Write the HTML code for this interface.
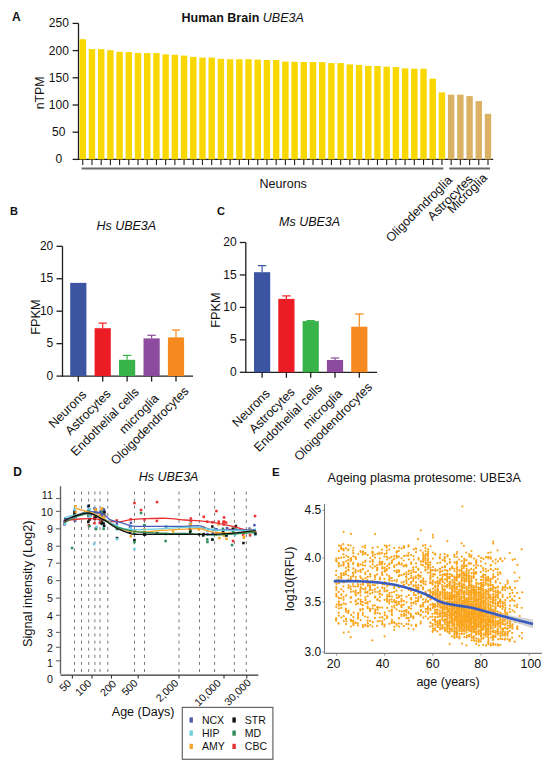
<!DOCTYPE html>
<html><head><meta charset="utf-8"><style>
html,body{margin:0;padding:0;background:#fff;}
svg{display:block;}
text{font-family:"Liberation Sans",sans-serif;}
</style></head><body>
<svg width="550" height="764" viewBox="0 0 550 764">
<rect width="550" height="764" fill="#fff"/>
<text x="12.00" y="20.70" font-size="12" text-anchor="start" font-weight="bold" font-style="normal" fill="#111">A</text>
<text x="181.5" y="21.9" font-size="12.5" fill="#111"><tspan font-weight="bold">Human Brain </tspan><tspan font-style="italic">UBE3A</tspan></text>
<line x1="78.50" y1="23.40" x2="78.50" y2="160.00" stroke="#1e1e1e" stroke-width="1.3"/>
<line x1="72.60" y1="159.40" x2="78.50" y2="159.40" stroke="#1e1e1e" stroke-width="1.3"/>
<text x="58.80" y="163.00" font-size="12" text-anchor="middle" font-weight="normal" font-style="normal" fill="#111">0</text>
<line x1="72.60" y1="132.20" x2="78.50" y2="132.20" stroke="#1e1e1e" stroke-width="1.3"/>
<text x="58.80" y="136.40" font-size="12" text-anchor="middle" font-weight="normal" font-style="normal" fill="#111">50</text>
<line x1="72.60" y1="105.00" x2="78.50" y2="105.00" stroke="#1e1e1e" stroke-width="1.3"/>
<text x="58.80" y="109.20" font-size="12" text-anchor="middle" font-weight="normal" font-style="normal" fill="#111">100</text>
<line x1="72.60" y1="77.80" x2="78.50" y2="77.80" stroke="#1e1e1e" stroke-width="1.3"/>
<text x="58.80" y="82.00" font-size="12" text-anchor="middle" font-weight="normal" font-style="normal" fill="#111">150</text>
<line x1="72.60" y1="50.60" x2="78.50" y2="50.60" stroke="#1e1e1e" stroke-width="1.3"/>
<text x="58.80" y="54.80" font-size="12" text-anchor="middle" font-weight="normal" font-style="normal" fill="#111">200</text>
<line x1="72.60" y1="23.40" x2="78.50" y2="23.40" stroke="#1e1e1e" stroke-width="1.3"/>
<text x="58.80" y="27.00" font-size="12" text-anchor="middle" font-weight="normal" font-style="normal" fill="#111">250</text>
<line x1="78.50" y1="159.40" x2="493.20" y2="159.40" stroke="#1e1e1e" stroke-width="1.3"/>
<rect x="79.55" y="39.20" width="6.40" height="120.20" fill="#F8D800"/>
<line x1="82.75" y1="159.40" x2="82.75" y2="165.00" stroke="#1e1e1e" stroke-width="1.1"/>
<rect x="88.76" y="49.10" width="6.40" height="110.30" fill="#F8D800"/>
<line x1="91.96" y1="159.40" x2="91.96" y2="165.00" stroke="#1e1e1e" stroke-width="1.1"/>
<rect x="97.97" y="49.10" width="6.40" height="110.30" fill="#F8D800"/>
<line x1="101.17" y1="159.40" x2="101.17" y2="165.00" stroke="#1e1e1e" stroke-width="1.1"/>
<rect x="107.18" y="50.20" width="6.40" height="109.20" fill="#F8D800"/>
<line x1="110.38" y1="159.40" x2="110.38" y2="165.00" stroke="#1e1e1e" stroke-width="1.1"/>
<rect x="116.39" y="51.80" width="6.40" height="107.60" fill="#F8D800"/>
<line x1="119.59" y1="159.40" x2="119.59" y2="165.00" stroke="#1e1e1e" stroke-width="1.1"/>
<rect x="125.60" y="52.00" width="6.40" height="107.40" fill="#F8D800"/>
<line x1="128.80" y1="159.40" x2="128.80" y2="165.00" stroke="#1e1e1e" stroke-width="1.1"/>
<rect x="134.81" y="52.90" width="6.40" height="106.50" fill="#F8D800"/>
<line x1="138.01" y1="159.40" x2="138.01" y2="165.00" stroke="#1e1e1e" stroke-width="1.1"/>
<rect x="144.02" y="53.10" width="6.40" height="106.30" fill="#F8D800"/>
<line x1="147.22" y1="159.40" x2="147.22" y2="165.00" stroke="#1e1e1e" stroke-width="1.1"/>
<rect x="153.23" y="53.10" width="6.40" height="106.30" fill="#F8D800"/>
<line x1="156.43" y1="159.40" x2="156.43" y2="165.00" stroke="#1e1e1e" stroke-width="1.1"/>
<rect x="162.44" y="54.40" width="6.40" height="105.00" fill="#F8D800"/>
<line x1="165.64" y1="159.40" x2="165.64" y2="165.00" stroke="#1e1e1e" stroke-width="1.1"/>
<rect x="171.65" y="54.80" width="6.40" height="104.60" fill="#F8D800"/>
<line x1="174.85" y1="159.40" x2="174.85" y2="165.00" stroke="#1e1e1e" stroke-width="1.1"/>
<rect x="180.86" y="55.60" width="6.40" height="103.80" fill="#F8D800"/>
<line x1="184.06" y1="159.40" x2="184.06" y2="165.00" stroke="#1e1e1e" stroke-width="1.1"/>
<rect x="190.07" y="56.90" width="6.40" height="102.50" fill="#F8D800"/>
<line x1="193.27" y1="159.40" x2="193.27" y2="165.00" stroke="#1e1e1e" stroke-width="1.1"/>
<rect x="199.28" y="57.60" width="6.40" height="101.80" fill="#F8D800"/>
<line x1="202.48" y1="159.40" x2="202.48" y2="165.00" stroke="#1e1e1e" stroke-width="1.1"/>
<rect x="208.49" y="57.60" width="6.40" height="101.80" fill="#F8D800"/>
<line x1="211.69" y1="159.40" x2="211.69" y2="165.00" stroke="#1e1e1e" stroke-width="1.1"/>
<rect x="217.70" y="58.90" width="6.40" height="100.50" fill="#F8D800"/>
<line x1="220.90" y1="159.40" x2="220.90" y2="165.00" stroke="#1e1e1e" stroke-width="1.1"/>
<rect x="226.91" y="59.30" width="6.40" height="100.10" fill="#F8D800"/>
<line x1="230.11" y1="159.40" x2="230.11" y2="165.00" stroke="#1e1e1e" stroke-width="1.1"/>
<rect x="236.12" y="59.30" width="6.40" height="100.10" fill="#F8D800"/>
<line x1="239.32" y1="159.40" x2="239.32" y2="165.00" stroke="#1e1e1e" stroke-width="1.1"/>
<rect x="245.33" y="59.30" width="6.40" height="100.10" fill="#F8D800"/>
<line x1="248.53" y1="159.40" x2="248.53" y2="165.00" stroke="#1e1e1e" stroke-width="1.1"/>
<rect x="254.54" y="59.60" width="6.40" height="99.80" fill="#F8D800"/>
<line x1="257.74" y1="159.40" x2="257.74" y2="165.00" stroke="#1e1e1e" stroke-width="1.1"/>
<rect x="263.75" y="60.00" width="6.40" height="99.40" fill="#F8D800"/>
<line x1="266.95" y1="159.40" x2="266.95" y2="165.00" stroke="#1e1e1e" stroke-width="1.1"/>
<rect x="272.96" y="60.00" width="6.40" height="99.40" fill="#F8D800"/>
<line x1="276.16" y1="159.40" x2="276.16" y2="165.00" stroke="#1e1e1e" stroke-width="1.1"/>
<rect x="282.17" y="61.60" width="6.40" height="97.80" fill="#F8D800"/>
<line x1="285.37" y1="159.40" x2="285.37" y2="165.00" stroke="#1e1e1e" stroke-width="1.1"/>
<rect x="291.38" y="61.80" width="6.40" height="97.60" fill="#F8D800"/>
<line x1="294.58" y1="159.40" x2="294.58" y2="165.00" stroke="#1e1e1e" stroke-width="1.1"/>
<rect x="300.59" y="62.00" width="6.40" height="97.40" fill="#F8D800"/>
<line x1="303.79" y1="159.40" x2="303.79" y2="165.00" stroke="#1e1e1e" stroke-width="1.1"/>
<rect x="309.80" y="62.00" width="6.40" height="97.40" fill="#F8D800"/>
<line x1="313.00" y1="159.40" x2="313.00" y2="165.00" stroke="#1e1e1e" stroke-width="1.1"/>
<rect x="319.01" y="62.20" width="6.40" height="97.20" fill="#F8D800"/>
<line x1="322.21" y1="159.40" x2="322.21" y2="165.00" stroke="#1e1e1e" stroke-width="1.1"/>
<rect x="328.22" y="63.10" width="6.40" height="96.30" fill="#F8D800"/>
<line x1="331.42" y1="159.40" x2="331.42" y2="165.00" stroke="#1e1e1e" stroke-width="1.1"/>
<rect x="337.43" y="63.10" width="6.40" height="96.30" fill="#F8D800"/>
<line x1="340.63" y1="159.40" x2="340.63" y2="165.00" stroke="#1e1e1e" stroke-width="1.1"/>
<rect x="346.64" y="64.40" width="6.40" height="95.00" fill="#F8D800"/>
<line x1="349.84" y1="159.40" x2="349.84" y2="165.00" stroke="#1e1e1e" stroke-width="1.1"/>
<rect x="355.85" y="64.90" width="6.40" height="94.50" fill="#F8D800"/>
<line x1="359.05" y1="159.40" x2="359.05" y2="165.00" stroke="#1e1e1e" stroke-width="1.1"/>
<rect x="365.06" y="65.80" width="6.40" height="93.60" fill="#F8D800"/>
<line x1="368.26" y1="159.40" x2="368.26" y2="165.00" stroke="#1e1e1e" stroke-width="1.1"/>
<rect x="374.27" y="66.00" width="6.40" height="93.40" fill="#F8D800"/>
<line x1="377.47" y1="159.40" x2="377.47" y2="165.00" stroke="#1e1e1e" stroke-width="1.1"/>
<rect x="383.48" y="66.70" width="6.40" height="92.70" fill="#F8D800"/>
<line x1="386.68" y1="159.40" x2="386.68" y2="165.00" stroke="#1e1e1e" stroke-width="1.1"/>
<rect x="392.69" y="67.10" width="6.40" height="92.30" fill="#F8D800"/>
<line x1="395.89" y1="159.40" x2="395.89" y2="165.00" stroke="#1e1e1e" stroke-width="1.1"/>
<rect x="401.90" y="68.40" width="6.40" height="91.00" fill="#F8D800"/>
<line x1="405.10" y1="159.40" x2="405.10" y2="165.00" stroke="#1e1e1e" stroke-width="1.1"/>
<rect x="411.11" y="68.70" width="6.40" height="90.70" fill="#F8D800"/>
<line x1="414.31" y1="159.40" x2="414.31" y2="165.00" stroke="#1e1e1e" stroke-width="1.1"/>
<rect x="420.32" y="68.70" width="6.40" height="90.70" fill="#F8D800"/>
<line x1="423.52" y1="159.40" x2="423.52" y2="165.00" stroke="#1e1e1e" stroke-width="1.1"/>
<rect x="429.53" y="78.70" width="6.40" height="80.70" fill="#F8D800"/>
<line x1="432.73" y1="159.40" x2="432.73" y2="165.00" stroke="#1e1e1e" stroke-width="1.1"/>
<rect x="438.74" y="92.40" width="6.40" height="67.00" fill="#F8D800"/>
<line x1="441.94" y1="159.40" x2="441.94" y2="165.00" stroke="#1e1e1e" stroke-width="1.1"/>
<rect x="447.95" y="94.70" width="6.40" height="64.70" fill="#DBB163"/>
<line x1="451.15" y1="159.40" x2="451.15" y2="165.00" stroke="#1e1e1e" stroke-width="1.1"/>
<rect x="457.16" y="94.70" width="6.40" height="64.70" fill="#DBB163"/>
<line x1="460.36" y1="159.40" x2="460.36" y2="165.00" stroke="#1e1e1e" stroke-width="1.1"/>
<rect x="466.37" y="96.10" width="6.40" height="63.30" fill="#DBB163"/>
<line x1="469.57" y1="159.40" x2="469.57" y2="165.00" stroke="#1e1e1e" stroke-width="1.1"/>
<rect x="475.58" y="101.10" width="6.40" height="58.30" fill="#DBB163"/>
<line x1="478.78" y1="159.40" x2="478.78" y2="165.00" stroke="#1e1e1e" stroke-width="1.1"/>
<rect x="484.79" y="113.80" width="6.40" height="45.60" fill="#DBB163"/>
<line x1="487.99" y1="159.40" x2="487.99" y2="165.00" stroke="#1e1e1e" stroke-width="1.1"/>
<line x1="81.60" y1="168.60" x2="443.30" y2="168.60" stroke="#6a6a6a" stroke-width="2"/>
<line x1="449.20" y1="168.60" x2="490.00" y2="168.60" stroke="#6a6a6a" stroke-width="2"/>
<text x="259.60" y="187.50" font-size="12.5" text-anchor="start" font-weight="normal" font-style="normal" fill="#111">Neurons</text>
<text transform="translate(452.80,180.90) rotate(-45)" font-size="12.5" text-anchor="end" fill="#111">Oligodendroglia</text>
<text transform="translate(473.80,180.00) rotate(-45)" font-size="12.5" text-anchor="end" fill="#111">Astrocytes</text>
<text transform="translate(487.80,178.70) rotate(-45)" font-size="12.5" text-anchor="end" fill="#111">Microglia</text>
<text transform="translate(44.1,92.85) rotate(-90)" font-size="12.4" text-anchor="middle" fill="#111">nTPM</text>
<text x="10.00" y="215.00" font-size="11" text-anchor="start" font-weight="bold" font-style="normal" fill="#111">B</text>
<text x="96.4" y="229.9" font-size="12.5" font-style="italic" fill="#111">Hs UBE3A</text>
<line x1="62.50" y1="246.30" x2="62.50" y2="376.70" stroke="#1e1e1e" stroke-width="1.3"/>
<line x1="56.50" y1="376.10" x2="62.50" y2="376.10" stroke="#1e1e1e" stroke-width="1.3"/>
<text x="53.30" y="379.70" font-size="12" text-anchor="end" font-weight="normal" font-style="normal" fill="#111">0</text>
<line x1="56.50" y1="343.65" x2="62.50" y2="343.65" stroke="#1e1e1e" stroke-width="1.3"/>
<text x="53.30" y="347.25" font-size="12" text-anchor="end" font-weight="normal" font-style="normal" fill="#111">5</text>
<line x1="56.50" y1="311.20" x2="62.50" y2="311.20" stroke="#1e1e1e" stroke-width="1.3"/>
<text x="53.30" y="314.80" font-size="12" text-anchor="end" font-weight="normal" font-style="normal" fill="#111">10</text>
<line x1="56.50" y1="278.75" x2="62.50" y2="278.75" stroke="#1e1e1e" stroke-width="1.3"/>
<text x="53.30" y="282.35" font-size="12" text-anchor="end" font-weight="normal" font-style="normal" fill="#111">15</text>
<line x1="56.50" y1="246.30" x2="62.50" y2="246.30" stroke="#1e1e1e" stroke-width="1.3"/>
<text x="53.30" y="249.90" font-size="12" text-anchor="end" font-weight="normal" font-style="normal" fill="#111">20</text>
<line x1="62.50" y1="376.10" x2="193.00" y2="376.10" stroke="#1e1e1e" stroke-width="1.3"/>
<rect x="70.20" y="282.90" width="16.20" height="93.20" fill="#3B55A3"/>
<line x1="78.30" y1="376.10" x2="78.30" y2="381.60" stroke="#1e1e1e" stroke-width="1.3"/>
<rect x="94.60" y="328.20" width="16.20" height="47.90" fill="#EC1C24"/>
<line x1="102.70" y1="328.20" x2="102.70" y2="323.10" stroke="#EC1C24" stroke-width="1.2"/>
<line x1="98.50" y1="323.10" x2="106.90" y2="323.10" stroke="#EC1C24" stroke-width="1.2"/>
<line x1="102.70" y1="376.10" x2="102.70" y2="381.60" stroke="#1e1e1e" stroke-width="1.3"/>
<rect x="119.00" y="359.80" width="16.20" height="16.30" fill="#37B34A"/>
<line x1="127.10" y1="359.80" x2="127.10" y2="355.40" stroke="#37B34A" stroke-width="1.2"/>
<line x1="122.90" y1="355.40" x2="131.30" y2="355.40" stroke="#37B34A" stroke-width="1.2"/>
<line x1="127.10" y1="376.10" x2="127.10" y2="381.60" stroke="#1e1e1e" stroke-width="1.3"/>
<rect x="143.50" y="338.40" width="16.20" height="37.70" fill="#8C4B9E"/>
<line x1="151.60" y1="338.40" x2="151.60" y2="335.30" stroke="#8C4B9E" stroke-width="1.2"/>
<line x1="147.40" y1="335.30" x2="155.80" y2="335.30" stroke="#8C4B9E" stroke-width="1.2"/>
<line x1="151.60" y1="376.10" x2="151.60" y2="381.60" stroke="#1e1e1e" stroke-width="1.3"/>
<rect x="167.90" y="337.40" width="16.20" height="38.70" fill="#F6891F"/>
<line x1="176.00" y1="337.40" x2="176.00" y2="330.00" stroke="#F6891F" stroke-width="1.2"/>
<line x1="171.80" y1="330.00" x2="180.20" y2="330.00" stroke="#F6891F" stroke-width="1.2"/>
<line x1="176.00" y1="376.10" x2="176.00" y2="381.60" stroke="#1e1e1e" stroke-width="1.3"/>
<text transform="translate(87.20,395.40) rotate(-45)" font-size="12.5" text-anchor="end" fill="#111">Neurons</text>
<text transform="translate(111.50,394.60) rotate(-45)" font-size="12.5" text-anchor="end" fill="#111">Astrocytes</text>
<text transform="translate(139.70,392.80) rotate(-45)" font-size="12.5" text-anchor="end" fill="#111">Endothelial cells</text>
<text transform="translate(159.50,399.20) rotate(-45)" font-size="12.5" text-anchor="end" fill="#111">microglia</text>
<text transform="translate(189.50,391.90) rotate(-45)" font-size="12.5" text-anchor="end" fill="#111">Oloigodendrocytes</text>
<text transform="translate(40.1,317) rotate(-90)" font-size="12.8" text-anchor="middle" fill="#111">FPKM</text>
<text x="217.00" y="214.80" font-size="11" text-anchor="start" font-weight="bold" font-style="normal" fill="#111">C</text>
<text x="279" y="226" font-size="12.5" font-style="italic" fill="#111">Ms UBE3A</text>
<line x1="245.80" y1="242.50" x2="245.80" y2="372.90" stroke="#1e1e1e" stroke-width="1.3"/>
<line x1="239.80" y1="372.30" x2="245.80" y2="372.30" stroke="#1e1e1e" stroke-width="1.3"/>
<text x="236.60" y="375.90" font-size="12" text-anchor="end" font-weight="normal" font-style="normal" fill="#111">0</text>
<line x1="239.80" y1="339.85" x2="245.80" y2="339.85" stroke="#1e1e1e" stroke-width="1.3"/>
<text x="236.60" y="343.45" font-size="12" text-anchor="end" font-weight="normal" font-style="normal" fill="#111">5</text>
<line x1="239.80" y1="307.40" x2="245.80" y2="307.40" stroke="#1e1e1e" stroke-width="1.3"/>
<text x="236.60" y="311.00" font-size="12" text-anchor="end" font-weight="normal" font-style="normal" fill="#111">10</text>
<line x1="239.80" y1="274.95" x2="245.80" y2="274.95" stroke="#1e1e1e" stroke-width="1.3"/>
<text x="236.60" y="278.55" font-size="12" text-anchor="end" font-weight="normal" font-style="normal" fill="#111">15</text>
<line x1="239.80" y1="242.50" x2="245.80" y2="242.50" stroke="#1e1e1e" stroke-width="1.3"/>
<text x="236.60" y="246.10" font-size="12" text-anchor="end" font-weight="normal" font-style="normal" fill="#111">20</text>
<line x1="245.80" y1="372.30" x2="377.00" y2="372.30" stroke="#1e1e1e" stroke-width="1.3"/>
<rect x="254.00" y="272.20" width="16.20" height="100.10" fill="#3B55A3"/>
<line x1="262.10" y1="272.20" x2="262.10" y2="265.60" stroke="#3B55A3" stroke-width="1.2"/>
<line x1="257.90" y1="265.60" x2="266.30" y2="265.60" stroke="#3B55A3" stroke-width="1.2"/>
<line x1="262.10" y1="372.30" x2="262.10" y2="377.80" stroke="#1e1e1e" stroke-width="1.3"/>
<rect x="278.30" y="298.90" width="16.20" height="73.40" fill="#EC1C24"/>
<line x1="286.40" y1="298.90" x2="286.40" y2="295.90" stroke="#EC1C24" stroke-width="1.2"/>
<line x1="282.20" y1="295.90" x2="290.60" y2="295.90" stroke="#EC1C24" stroke-width="1.2"/>
<line x1="286.40" y1="372.30" x2="286.40" y2="377.80" stroke="#1e1e1e" stroke-width="1.3"/>
<rect x="302.60" y="321.10" width="16.20" height="51.20" fill="#37B34A"/>
<line x1="310.70" y1="321.10" x2="310.70" y2="320.60" stroke="#37B34A" stroke-width="1.2"/>
<line x1="306.50" y1="320.60" x2="314.90" y2="320.60" stroke="#37B34A" stroke-width="1.2"/>
<line x1="310.70" y1="372.30" x2="310.70" y2="377.80" stroke="#1e1e1e" stroke-width="1.3"/>
<rect x="326.90" y="360.00" width="16.20" height="12.30" fill="#8C4B9E"/>
<line x1="335.00" y1="360.00" x2="335.00" y2="358.00" stroke="#8C4B9E" stroke-width="1.2"/>
<line x1="330.80" y1="358.00" x2="339.20" y2="358.00" stroke="#8C4B9E" stroke-width="1.2"/>
<line x1="335.00" y1="372.30" x2="335.00" y2="377.80" stroke="#1e1e1e" stroke-width="1.3"/>
<rect x="351.20" y="326.70" width="16.20" height="45.60" fill="#F6891F"/>
<line x1="359.30" y1="326.70" x2="359.30" y2="314.00" stroke="#F6891F" stroke-width="1.2"/>
<line x1="355.10" y1="314.00" x2="363.50" y2="314.00" stroke="#F6891F" stroke-width="1.2"/>
<line x1="359.30" y1="372.30" x2="359.30" y2="377.80" stroke="#1e1e1e" stroke-width="1.3"/>
<text transform="translate(270.70,394.30) rotate(-45)" font-size="12.5" text-anchor="end" fill="#111">Neurons</text>
<text transform="translate(295.50,392.80) rotate(-45)" font-size="12.5" text-anchor="end" fill="#111">Astrocytes</text>
<text transform="translate(323.00,388.60) rotate(-45)" font-size="12.5" text-anchor="end" fill="#111">Endothelial cells</text>
<text transform="translate(343.00,394.40) rotate(-45)" font-size="12.5" text-anchor="end" fill="#111">microglia</text>
<text transform="translate(372.90,387.80) rotate(-45)" font-size="12.5" text-anchor="end" fill="#111">Oloigodendrocytes</text>
<text transform="translate(219.8,310) rotate(-90)" font-size="12.8" text-anchor="middle" fill="#111">FPKM</text>
<text x="13.30" y="476.00" font-size="12" text-anchor="start" font-weight="bold" font-style="normal" fill="#111">D</text>
<text x="138.7" y="480.7" font-size="12.5" font-style="italic" fill="#111">Hs UBE3A</text>
<line x1="60.50" y1="486.20" x2="60.50" y2="673.80" stroke="#666" stroke-width="1.4"/>
<line x1="56.00" y1="498.50" x2="60.50" y2="498.50" stroke="#666" stroke-width="1.1"/>
<line x1="56.00" y1="511.40" x2="60.50" y2="511.40" stroke="#666" stroke-width="1.1"/>
<line x1="56.00" y1="528.80" x2="60.50" y2="528.80" stroke="#666" stroke-width="1.1"/>
<line x1="56.00" y1="546.20" x2="60.50" y2="546.20" stroke="#666" stroke-width="1.1"/>
<line x1="56.00" y1="563.20" x2="60.50" y2="563.20" stroke="#666" stroke-width="1.1"/>
<line x1="56.00" y1="580.60" x2="60.50" y2="580.60" stroke="#666" stroke-width="1.1"/>
<line x1="56.00" y1="598.10" x2="60.50" y2="598.10" stroke="#666" stroke-width="1.1"/>
<line x1="56.00" y1="615.30" x2="60.50" y2="615.30" stroke="#666" stroke-width="1.1"/>
<line x1="56.00" y1="632.40" x2="60.50" y2="632.40" stroke="#666" stroke-width="1.1"/>
<line x1="56.00" y1="647.30" x2="60.50" y2="647.30" stroke="#666" stroke-width="1.1"/>
<line x1="56.00" y1="660.80" x2="60.50" y2="660.80" stroke="#666" stroke-width="1.1"/>
<text x="52.80" y="498.70" font-size="10.6" text-anchor="end" font-weight="normal" font-style="normal" fill="#111">11</text>
<text x="52.80" y="516.30" font-size="10.6" text-anchor="end" font-weight="normal" font-style="normal" fill="#111">10</text>
<text x="52.80" y="533.20" font-size="10.6" text-anchor="end" font-weight="normal" font-style="normal" fill="#111">9</text>
<text x="52.80" y="551.40" font-size="10.6" text-anchor="end" font-weight="normal" font-style="normal" fill="#111">8</text>
<text x="52.80" y="566.80" font-size="10.6" text-anchor="end" font-weight="normal" font-style="normal" fill="#111">7</text>
<text x="52.80" y="583.80" font-size="10.6" text-anchor="end" font-weight="normal" font-style="normal" fill="#111">6</text>
<text x="52.80" y="601.50" font-size="10.6" text-anchor="end" font-weight="normal" font-style="normal" fill="#111">5</text>
<text x="52.80" y="620.30" font-size="10.6" text-anchor="end" font-weight="normal" font-style="normal" fill="#111">4</text>
<text x="52.80" y="637.00" font-size="10.6" text-anchor="end" font-weight="normal" font-style="normal" fill="#111">3</text>
<text x="52.80" y="651.50" font-size="10.6" text-anchor="end" font-weight="normal" font-style="normal" fill="#111">2</text>
<text x="52.80" y="666.70" font-size="10.6" text-anchor="end" font-weight="normal" font-style="normal" fill="#111">1</text>
<text x="52.80" y="682.80" font-size="10.6" text-anchor="end" font-weight="normal" font-style="normal" fill="#111">0</text>
<line x1="60.50" y1="675.20" x2="258.40" y2="675.20" stroke="#333" stroke-width="1.2"/>
<line x1="74.50" y1="491.50" x2="74.50" y2="675.00" stroke="#7a7a7a" stroke-width="1.0" stroke-dasharray="3 4.1"/>
<line x1="81.50" y1="491.50" x2="81.50" y2="675.00" stroke="#7a7a7a" stroke-width="1.0" stroke-dasharray="3 4.1"/>
<line x1="88.70" y1="491.50" x2="88.70" y2="675.00" stroke="#7a7a7a" stroke-width="1.0" stroke-dasharray="3 4.1"/>
<line x1="94.90" y1="491.50" x2="94.90" y2="675.00" stroke="#7a7a7a" stroke-width="1.0" stroke-dasharray="3 4.1"/>
<line x1="100.00" y1="491.50" x2="100.00" y2="675.00" stroke="#7a7a7a" stroke-width="1.0" stroke-dasharray="3 4.1"/>
<line x1="107.80" y1="491.50" x2="107.80" y2="675.00" stroke="#7a7a7a" stroke-width="1.0" stroke-dasharray="3 4.1"/>
<line x1="134.50" y1="491.50" x2="134.50" y2="675.00" stroke="#7a7a7a" stroke-width="1.0" stroke-dasharray="3 4.1"/>
<line x1="144.50" y1="491.50" x2="144.50" y2="675.00" stroke="#7a7a7a" stroke-width="1.0" stroke-dasharray="3 4.1"/>
<line x1="179.00" y1="491.50" x2="179.00" y2="675.00" stroke="#7a7a7a" stroke-width="1.0" stroke-dasharray="3 4.1"/>
<line x1="199.50" y1="491.50" x2="199.50" y2="675.00" stroke="#7a7a7a" stroke-width="1.0" stroke-dasharray="3 4.1"/>
<line x1="214.60" y1="491.50" x2="214.60" y2="675.00" stroke="#7a7a7a" stroke-width="1.0" stroke-dasharray="3 4.1"/>
<line x1="234.40" y1="491.50" x2="234.40" y2="675.00" stroke="#7a7a7a" stroke-width="1.0" stroke-dasharray="3 4.1"/>
<line x1="246.30" y1="491.50" x2="246.30" y2="675.00" stroke="#7a7a7a" stroke-width="1.0" stroke-dasharray="3 4.1"/>
<line x1="72.40" y1="675.20" x2="72.40" y2="678.60" stroke="#333" stroke-width="1.1"/>
<line x1="92.00" y1="675.20" x2="92.00" y2="678.60" stroke="#333" stroke-width="1.1"/>
<line x1="111.50" y1="675.20" x2="111.50" y2="678.60" stroke="#333" stroke-width="1.1"/>
<line x1="138.20" y1="675.20" x2="138.20" y2="678.60" stroke="#333" stroke-width="1.1"/>
<line x1="179.00" y1="675.20" x2="179.00" y2="678.60" stroke="#333" stroke-width="1.1"/>
<line x1="224.00" y1="675.20" x2="224.00" y2="678.60" stroke="#333" stroke-width="1.1"/>
<line x1="246.80" y1="675.20" x2="246.80" y2="678.60" stroke="#333" stroke-width="1.1"/>
<text transform="translate(72.00,684.00) rotate(-45)" font-size="10.6" text-anchor="end" fill="#111">50</text>
<text transform="translate(92.10,684.00) rotate(-45)" font-size="10.6" text-anchor="end" fill="#111">100</text>
<text transform="translate(117.00,684.50) rotate(-45)" font-size="10.6" text-anchor="end" fill="#111">200</text>
<text transform="translate(138.40,683.80) rotate(-45)" font-size="10.6" text-anchor="end" fill="#111">500</text>
<text transform="translate(179.10,683.80) rotate(-45)" font-size="10.6" text-anchor="end" fill="#111">2,000</text>
<text transform="translate(221.70,683.80) rotate(-45)" font-size="10.6" text-anchor="end" fill="#111">10,000</text>
<text transform="translate(251.60,683.30) rotate(-45)" font-size="10.6" text-anchor="end" fill="#111">30,000</text>
<text x="111.80" y="716.40" font-size="12.5" text-anchor="start" font-weight="normal" font-style="normal" fill="#111">Age (Days)</text>
<text transform="translate(31.8,583.7) rotate(-90)" font-size="12.8" text-anchor="middle" fill="#111">Signal intensity (Log2)</text>
<rect x="182.3" y="707.4" width="90.6" height="51.9" fill="none" stroke="#666" stroke-width="1.2"/>
<rect x="189.50" y="717.40" width="3.40" height="5.20" fill="#4A5DB5"/>
<text x="201.90" y="724.00" font-size="10.5" text-anchor="start" font-weight="normal" font-style="normal" fill="#111">NCX</text>
<rect x="189.50" y="730.50" width="3.40" height="5.20" fill="#6FCFE0"/>
<text x="201.90" y="737.10" font-size="10.5" text-anchor="start" font-weight="normal" font-style="normal" fill="#111">HIP</text>
<rect x="189.50" y="743.80" width="3.40" height="5.20" fill="#F5A52A"/>
<text x="201.90" y="750.40" font-size="10.5" text-anchor="start" font-weight="normal" font-style="normal" fill="#111">AMY</text>
<rect x="232.40" y="717.40" width="3.40" height="5.20" fill="#111"/>
<text x="244.80" y="724.00" font-size="10.5" text-anchor="start" font-weight="normal" font-style="normal" fill="#111">STR</text>
<rect x="232.40" y="730.50" width="3.40" height="5.20" fill="#2E8B57"/>
<text x="244.80" y="737.10" font-size="10.5" text-anchor="start" font-weight="normal" font-style="normal" fill="#111">MD</text>
<rect x="232.40" y="743.80" width="3.40" height="5.20" fill="#E8302F"/>
<text x="244.80" y="750.40" font-size="10.5" text-anchor="start" font-weight="normal" font-style="normal" fill="#111">CBC</text>
<rect x="64.1" y="519.5" width="2.5" height="2.5" fill="#E8302F"/><rect x="63.3" y="521.4" width="2.5" height="2.5" fill="#E8302F"/><rect x="63.2" y="523.2" width="2.5" height="2.5" fill="#4A5DB5"/><rect x="63.3" y="519.7" width="2.5" height="2.5" fill="#4A5DB5"/><rect x="63.8" y="522.6" width="2.5" height="2.5" fill="#6FCFE0"/><rect x="64.3" y="517.4" width="2.5" height="2.5" fill="#111111"/><rect x="73.3" y="509.9" width="2.5" height="2.5" fill="#4A5DB5"/><rect x="73.3" y="517.5" width="2.5" height="2.5" fill="#4A5DB5"/><rect x="73.1" y="508.3" width="2.5" height="2.5" fill="#6FCFE0"/><rect x="73.3" y="513.3" width="2.5" height="2.5" fill="#2E8B57"/><rect x="73.0" y="513.2" width="2.5" height="2.5" fill="#111111"/><rect x="73.4" y="510.9" width="2.5" height="2.5" fill="#111111"/><rect x="73.6" y="511.5" width="2.5" height="2.5" fill="#111111"/><rect x="73.7" y="519.3" width="2.5" height="2.5" fill="#E8302F"/><rect x="74.1" y="516.6" width="2.5" height="2.5" fill="#E8302F"/><rect x="73.8" y="519.4" width="2.5" height="2.5" fill="#4A5DB5"/><rect x="73.7" y="516.7" width="2.5" height="2.5" fill="#6FCFE0"/><rect x="74.5" y="517.9" width="2.5" height="2.5" fill="#6FCFE0"/><rect x="74.2" y="505.0" width="2.5" height="2.5" fill="#F5A52A"/><rect x="74.6" y="510.8" width="2.5" height="2.5" fill="#F5A52A"/><rect x="87.6" y="524.0" width="2.5" height="2.5" fill="#E8302F"/><rect x="87.2" y="512.9" width="2.5" height="2.5" fill="#4A5DB5"/><rect x="86.9" y="505.3" width="2.5" height="2.5" fill="#4A5DB5"/><rect x="87.4" y="514.7" width="2.5" height="2.5" fill="#4A5DB5"/><rect x="87.2" y="508.3" width="2.5" height="2.5" fill="#6FCFE0"/><rect x="87.3" y="511.0" width="2.5" height="2.5" fill="#F5A52A"/><rect x="87.4" y="512.1" width="2.5" height="2.5" fill="#F5A52A"/><rect x="87.5" y="509.5" width="2.5" height="2.5" fill="#F5A52A"/><rect x="87.3" y="514.8" width="2.5" height="2.5" fill="#2E8B57"/><rect x="87.3" y="509.7" width="2.5" height="2.5" fill="#2E8B57"/><rect x="87.0" y="520.9" width="2.5" height="2.5" fill="#2E8B57"/><rect x="87.6" y="504.4" width="2.5" height="2.5" fill="#111111"/><rect x="87.1" y="520.4" width="2.5" height="2.5" fill="#111111"/><rect x="88.7" y="518.1" width="2.5" height="2.5" fill="#E8302F"/><rect x="89.3" y="513.5" width="2.5" height="2.5" fill="#E8302F"/><rect x="88.7" y="514.8" width="2.5" height="2.5" fill="#4A5DB5"/><rect x="88.7" y="508.1" width="2.5" height="2.5" fill="#6FCFE0"/><rect x="88.6" y="514.4" width="2.5" height="2.5" fill="#6FCFE0"/><rect x="88.7" y="516.5" width="2.5" height="2.5" fill="#6FCFE0"/><rect x="88.2" y="524.9" width="2.5" height="2.5" fill="#2E8B57"/><rect x="88.2" y="518.2" width="2.5" height="2.5" fill="#111111"/><rect x="93.2" y="515.9" width="2.5" height="2.5" fill="#E8302F"/><rect x="93.5" y="517.8" width="2.5" height="2.5" fill="#E8302F"/><rect x="93.2" y="522.0" width="2.5" height="2.5" fill="#E8302F"/><rect x="93.2" y="507.3" width="2.5" height="2.5" fill="#4A5DB5"/><rect x="93.9" y="511.6" width="2.5" height="2.5" fill="#4A5DB5"/><rect x="93.9" y="510.8" width="2.5" height="2.5" fill="#4A5DB5"/><rect x="94.2" y="507.8" width="2.5" height="2.5" fill="#6FCFE0"/><rect x="93.7" y="510.5" width="2.5" height="2.5" fill="#6FCFE0"/><rect x="93.9" y="513.8" width="2.5" height="2.5" fill="#2E8B57"/><rect x="93.3" y="517.3" width="2.5" height="2.5" fill="#111111"/><rect x="93.7" y="511.4" width="2.5" height="2.5" fill="#111111"/><rect x="95.1" y="511.9" width="2.5" height="2.5" fill="#E8302F"/><rect x="94.4" y="512.8" width="2.5" height="2.5" fill="#E8302F"/><rect x="94.8" y="511.0" width="2.5" height="2.5" fill="#4A5DB5"/><rect x="94.6" y="508.0" width="2.5" height="2.5" fill="#4A5DB5"/><rect x="94.5" y="512.3" width="2.5" height="2.5" fill="#4A5DB5"/><rect x="94.7" y="513.4" width="2.5" height="2.5" fill="#6FCFE0"/><rect x="95.3" y="525.6" width="2.5" height="2.5" fill="#6FCFE0"/><rect x="94.3" y="508.1" width="2.5" height="2.5" fill="#F5A52A"/><rect x="94.7" y="509.2" width="2.5" height="2.5" fill="#F5A52A"/><rect x="94.7" y="515.5" width="2.5" height="2.5" fill="#2E8B57"/><rect x="94.6" y="515.5" width="2.5" height="2.5" fill="#111111"/><rect x="98.7" y="516.3" width="2.5" height="2.5" fill="#E8302F"/><rect x="98.5" y="521.7" width="2.5" height="2.5" fill="#E8302F"/><rect x="98.7" y="518.9" width="2.5" height="2.5" fill="#4A5DB5"/><rect x="98.3" y="511.7" width="2.5" height="2.5" fill="#4A5DB5"/><rect x="99.3" y="509.9" width="2.5" height="2.5" fill="#4A5DB5"/><rect x="99.1" y="516.1" width="2.5" height="2.5" fill="#F5A52A"/><rect x="99.3" y="512.9" width="2.5" height="2.5" fill="#F5A52A"/><rect x="98.8" y="513.0" width="2.5" height="2.5" fill="#F5A52A"/><rect x="100.8" y="515.2" width="2.5" height="2.5" fill="#E8302F"/><rect x="101.2" y="515.5" width="2.5" height="2.5" fill="#4A5DB5"/><rect x="100.2" y="512.3" width="2.5" height="2.5" fill="#4A5DB5"/><rect x="101.1" y="513.8" width="2.5" height="2.5" fill="#4A5DB5"/><rect x="101.2" y="521.4" width="2.5" height="2.5" fill="#6FCFE0"/><rect x="101.2" y="523.1" width="2.5" height="2.5" fill="#6FCFE0"/><rect x="100.9" y="519.0" width="2.5" height="2.5" fill="#6FCFE0"/><rect x="100.3" y="520.6" width="2.5" height="2.5" fill="#F5A52A"/><rect x="100.3" y="508.1" width="2.5" height="2.5" fill="#F5A52A"/><rect x="101.1" y="507.1" width="2.5" height="2.5" fill="#F5A52A"/><rect x="100.4" y="517.2" width="2.5" height="2.5" fill="#2E8B57"/><rect x="100.8" y="510.7" width="2.5" height="2.5" fill="#2E8B57"/><rect x="101.1" y="518.9" width="2.5" height="2.5" fill="#111111"/><rect x="100.4" y="522.3" width="2.5" height="2.5" fill="#111111"/><rect x="100.5" y="521.3" width="2.5" height="2.5" fill="#111111"/><rect x="103.2" y="512.1" width="2.5" height="2.5" fill="#E8302F"/><rect x="102.7" y="516.2" width="2.5" height="2.5" fill="#E8302F"/><rect x="102.8" y="515.0" width="2.5" height="2.5" fill="#E8302F"/><rect x="102.8" y="509.9" width="2.5" height="2.5" fill="#4A5DB5"/><rect x="102.4" y="515.2" width="2.5" height="2.5" fill="#4A5DB5"/><rect x="102.8" y="508.3" width="2.5" height="2.5" fill="#4A5DB5"/><rect x="102.4" y="525.7" width="2.5" height="2.5" fill="#6FCFE0"/><rect x="102.7" y="512.9" width="2.5" height="2.5" fill="#6FCFE0"/><rect x="102.4" y="515.9" width="2.5" height="2.5" fill="#F5A52A"/><rect x="102.2" y="518.1" width="2.5" height="2.5" fill="#F5A52A"/><rect x="103.2" y="513.7" width="2.5" height="2.5" fill="#F5A52A"/><rect x="102.3" y="512.0" width="2.5" height="2.5" fill="#2E8B57"/><rect x="102.4" y="527.6" width="2.5" height="2.5" fill="#2E8B57"/><rect x="103.2" y="510.8" width="2.5" height="2.5" fill="#111111"/><rect x="102.4" y="522.2" width="2.5" height="2.5" fill="#111111"/><rect x="103.0" y="524.5" width="2.5" height="2.5" fill="#111111"/><rect x="115.5" y="519.2" width="2.5" height="2.5" fill="#E8302F"/><rect x="115.6" y="522.3" width="2.5" height="2.5" fill="#4A5DB5"/><rect x="115.9" y="528.2" width="2.5" height="2.5" fill="#6FCFE0"/><rect x="115.8" y="525.2" width="2.5" height="2.5" fill="#6FCFE0"/><rect x="115.5" y="527.4" width="2.5" height="2.5" fill="#2E8B57"/><rect x="129.5" y="518.1" width="2.5" height="2.5" fill="#E8302F"/><rect x="128.7" y="525.5" width="2.5" height="2.5" fill="#4A5DB5"/><rect x="129.7" y="521.6" width="2.5" height="2.5" fill="#4A5DB5"/><rect x="129.5" y="526.8" width="2.5" height="2.5" fill="#6FCFE0"/><rect x="128.8" y="531.0" width="2.5" height="2.5" fill="#6FCFE0"/><rect x="129.5" y="535.1" width="2.5" height="2.5" fill="#F5A52A"/><rect x="128.9" y="530.2" width="2.5" height="2.5" fill="#111111"/><rect x="132.8" y="530.9" width="2.5" height="2.5" fill="#6FCFE0"/><rect x="133.8" y="529.0" width="2.5" height="2.5" fill="#F5A52A"/><rect x="133.0" y="532.3" width="2.5" height="2.5" fill="#2E8B57"/><rect x="143.2" y="518.3" width="2.5" height="2.5" fill="#E8302F"/><rect x="143.0" y="524.6" width="2.5" height="2.5" fill="#4A5DB5"/><rect x="143.8" y="531.4" width="2.5" height="2.5" fill="#F5A52A"/><rect x="143.2" y="528.0" width="2.5" height="2.5" fill="#F5A52A"/><rect x="143.2" y="530.9" width="2.5" height="2.5" fill="#2E8B57"/><rect x="143.1" y="524.0" width="2.5" height="2.5" fill="#2E8B57"/><rect x="142.9" y="533.3" width="2.5" height="2.5" fill="#111111"/><rect x="143.7" y="533.4" width="2.5" height="2.5" fill="#111111"/><rect x="155.6" y="519.7" width="2.5" height="2.5" fill="#E8302F"/><rect x="155.9" y="531.9" width="2.5" height="2.5" fill="#111111"/><rect x="164.9" y="525.6" width="2.5" height="2.5" fill="#4A5DB5"/><rect x="164.7" y="525.0" width="2.5" height="2.5" fill="#6FCFE0"/><rect x="164.5" y="532.7" width="2.5" height="2.5" fill="#2E8B57"/><rect x="164.4" y="539.8" width="2.5" height="2.5" fill="#2E8B57"/><rect x="171.8" y="530.2" width="2.5" height="2.5" fill="#F5A52A"/><rect x="189.7" y="520.4" width="2.5" height="2.5" fill="#E8302F"/><rect x="189.6" y="517.3" width="2.5" height="2.5" fill="#E8302F"/><rect x="189.0" y="524.0" width="2.5" height="2.5" fill="#4A5DB5"/><rect x="188.7" y="521.8" width="2.5" height="2.5" fill="#6FCFE0"/><rect x="189.6" y="523.5" width="2.5" height="2.5" fill="#F5A52A"/><rect x="188.8" y="523.3" width="2.5" height="2.5" fill="#F5A52A"/><rect x="188.7" y="526.2" width="2.5" height="2.5" fill="#2E8B57"/><rect x="189.5" y="529.6" width="2.5" height="2.5" fill="#2E8B57"/><rect x="188.9" y="530.7" width="2.5" height="2.5" fill="#111111"/><rect x="188.7" y="527.7" width="2.5" height="2.5" fill="#111111"/><rect x="197.8" y="528.2" width="2.5" height="2.5" fill="#F5A52A"/><rect x="197.4" y="527.7" width="2.5" height="2.5" fill="#F5A52A"/><rect x="197.8" y="533.0" width="2.5" height="2.5" fill="#111111"/><rect x="202.5" y="515.6" width="2.5" height="2.5" fill="#E8302F"/><rect x="202.6" y="527.5" width="2.5" height="2.5" fill="#4A5DB5"/><rect x="202.2" y="526.1" width="2.5" height="2.5" fill="#F5A52A"/><rect x="202.4" y="532.8" width="2.5" height="2.5" fill="#111111"/><rect x="201.9" y="534.2" width="2.5" height="2.5" fill="#111111"/><rect x="206.0" y="520.4" width="2.5" height="2.5" fill="#E8302F"/><rect x="206.2" y="533.2" width="2.5" height="2.5" fill="#4A5DB5"/><rect x="206.2" y="529.8" width="2.5" height="2.5" fill="#6FCFE0"/><rect x="206.5" y="529.2" width="2.5" height="2.5" fill="#6FCFE0"/><rect x="206.0" y="538.2" width="2.5" height="2.5" fill="#2E8B57"/><rect x="211.2" y="521.0" width="2.5" height="2.5" fill="#E8302F"/><rect x="211.7" y="532.0" width="2.5" height="2.5" fill="#4A5DB5"/><rect x="211.3" y="528.3" width="2.5" height="2.5" fill="#6FCFE0"/><rect x="211.3" y="538.4" width="2.5" height="2.5" fill="#2E8B57"/><rect x="211.1" y="538.3" width="2.5" height="2.5" fill="#111111"/><rect x="211.1" y="525.3" width="2.5" height="2.5" fill="#111111"/><rect x="215.2" y="528.8" width="2.5" height="2.5" fill="#4A5DB5"/><rect x="215.1" y="528.0" width="2.5" height="2.5" fill="#4A5DB5"/><rect x="215.0" y="533.0" width="2.5" height="2.5" fill="#F5A52A"/><rect x="217.5" y="520.4" width="2.5" height="2.5" fill="#E8302F"/><rect x="217.2" y="523.2" width="2.5" height="2.5" fill="#F5A52A"/><rect x="218.2" y="536.8" width="2.5" height="2.5" fill="#F5A52A"/><rect x="222.8" y="520.3" width="2.5" height="2.5" fill="#E8302F"/><rect x="222.3" y="523.2" width="2.5" height="2.5" fill="#E8302F"/><rect x="222.6" y="534.3" width="2.5" height="2.5" fill="#F5A52A"/><rect x="221.7" y="527.5" width="2.5" height="2.5" fill="#2E8B57"/><rect x="222.5" y="531.4" width="2.5" height="2.5" fill="#2E8B57"/><rect x="221.7" y="530.5" width="2.5" height="2.5" fill="#111111"/><rect x="224.9" y="521.3" width="2.5" height="2.5" fill="#E8302F"/><rect x="225.8" y="526.8" width="2.5" height="2.5" fill="#4A5DB5"/><rect x="225.2" y="537.5" width="2.5" height="2.5" fill="#F5A52A"/><rect x="224.9" y="534.2" width="2.5" height="2.5" fill="#2E8B57"/><rect x="225.3" y="534.2" width="2.5" height="2.5" fill="#111111"/><rect x="228.3" y="528.6" width="2.5" height="2.5" fill="#E8302F"/><rect x="232.0" y="528.6" width="2.5" height="2.5" fill="#4A5DB5"/><rect x="231.5" y="529.2" width="2.5" height="2.5" fill="#6FCFE0"/><rect x="231.5" y="529.2" width="2.5" height="2.5" fill="#F5A52A"/><rect x="232.1" y="530.9" width="2.5" height="2.5" fill="#2E8B57"/><rect x="231.5" y="527.5" width="2.5" height="2.5" fill="#111111"/><rect x="233.7" y="533.7" width="2.5" height="2.5" fill="#6FCFE0"/><rect x="234.8" y="526.3" width="2.5" height="2.5" fill="#2E8B57"/><rect x="234.6" y="524.8" width="2.5" height="2.5" fill="#111111"/><rect x="241.9" y="533.4" width="2.5" height="2.5" fill="#E8302F"/><rect x="242.5" y="536.6" width="2.5" height="2.5" fill="#F5A52A"/><rect x="242.7" y="535.5" width="2.5" height="2.5" fill="#F5A52A"/><rect x="242.6" y="531.0" width="2.5" height="2.5" fill="#2E8B57"/><rect x="249.0" y="528.6" width="2.5" height="2.5" fill="#E8302F"/><rect x="248.8" y="534.1" width="2.5" height="2.5" fill="#E8302F"/><rect x="248.3" y="527.4" width="2.5" height="2.5" fill="#4A5DB5"/><rect x="248.9" y="528.5" width="2.5" height="2.5" fill="#F5A52A"/><rect x="253.9" y="531.1" width="2.5" height="2.5" fill="#E8302F"/><rect x="253.2" y="523.9" width="2.5" height="2.5" fill="#4A5DB5"/><rect x="253.5" y="528.5" width="2.5" height="2.5" fill="#6FCFE0"/><rect x="254.0" y="533.7" width="2.5" height="2.5" fill="#6FCFE0"/><rect x="253.4" y="530.8" width="2.5" height="2.5" fill="#F5A52A"/><rect x="253.6" y="531.4" width="2.5" height="2.5" fill="#2E8B57"/><rect x="253.6" y="530.4" width="2.5" height="2.5" fill="#111111"/><rect x="254.2" y="532.6" width="2.5" height="2.5" fill="#111111"/><rect x="133.2" y="501.8" width="2.5" height="2.5" fill="#E8302F"/><rect x="155.8" y="500.8" width="2.5" height="2.5" fill="#E8302F"/><rect x="139.8" y="508.8" width="2.5" height="2.5" fill="#E8302F"/><rect x="139.8" y="511.8" width="2.5" height="2.5" fill="#2E8B57"/><rect x="215.2" y="509.8" width="2.5" height="2.5" fill="#E8302F"/><rect x="222.8" y="516.2" width="2.5" height="2.5" fill="#E8302F"/><rect x="222.2" y="520.8" width="2.5" height="2.5" fill="#E8302F"/><rect x="253.8" y="514.8" width="2.5" height="2.5" fill="#E8302F"/><rect x="115.8" y="536.8" width="2.5" height="2.5" fill="#111111"/><rect x="115.8" y="537.8" width="2.5" height="2.5" fill="#6FCFE0"/><rect x="133.2" y="538.8" width="2.5" height="2.5" fill="#111111"/><rect x="133.2" y="540.8" width="2.5" height="2.5" fill="#2E8B57"/><rect x="70.8" y="546.8" width="2.5" height="2.5" fill="#2E8B57"/><rect x="133.2" y="547.8" width="2.5" height="2.5" fill="#6FCFE0"/><rect x="242.2" y="541.8" width="2.5" height="2.5" fill="#111111"/><rect x="231.8" y="539.8" width="2.5" height="2.5" fill="#E8302F"/><rect x="230.8" y="543.8" width="2.5" height="2.5" fill="#2E8B57"/><rect x="206.2" y="540.8" width="2.5" height="2.5" fill="#2E8B57"/><rect x="92.8" y="542.8" width="2.5" height="2.5" fill="#6FCFE0"/><rect x="94.8" y="527.8" width="2.5" height="2.5" fill="#2E8B57"/>
<path d="M64.5,522.0 C65.4,521.7 67.4,520.5 70.0,520.0 C72.6,519.5 76.7,519.2 80.0,519.0 C83.3,518.8 86.7,518.6 90.0,518.7 C93.3,518.8 97.2,519.1 100.0,519.5 C102.8,519.9 103.9,520.6 107.0,521.0 C110.1,521.4 114.8,522.1 118.7,521.9 C122.6,521.7 126.0,520.2 130.4,519.7 C134.8,519.2 138.9,518.9 144.9,518.7 C150.9,518.5 160.0,518.1 166.7,518.3 C173.4,518.5 179.5,519.6 185.0,520.0 C190.5,520.4 194.7,520.5 199.5,520.9 C204.3,521.3 208.4,521.7 214.0,522.6 C219.6,523.5 227.7,525.1 233.0,526.3 C238.3,527.5 242.2,529.2 246.0,529.9 C249.8,530.6 253.9,530.5 255.5,530.6" fill="none" stroke="#E8302F" stroke-width="1.3"/>
<path d="M64.5,520.0 C65.8,519.5 69.4,518.0 72.0,517.0 C74.6,516.0 77.3,514.9 80.0,514.0 C82.7,513.1 84.7,511.7 88.0,511.5 C91.3,511.3 97.2,512.4 100.0,513.0 C102.8,513.6 103.3,513.9 105.0,515.0 C106.7,516.1 107.7,518.6 110.0,519.7 C112.3,520.9 115.3,520.9 118.7,521.9 C122.1,522.9 127.5,524.8 130.4,525.5 C133.3,526.2 129.9,526.2 136.2,526.3 C142.5,526.4 160.1,526.3 168.2,526.3 C176.3,526.3 179.8,526.4 185.0,526.3 C190.2,526.2 196.3,525.6 199.5,525.8 C202.7,526.0 201.6,526.6 204.0,527.3 C206.4,528.0 209.2,529.5 214.0,529.9 C218.8,530.3 226.1,529.9 233.0,529.9 C239.9,529.9 251.8,529.9 255.5,529.9" fill="none" stroke="#4A5DB5" stroke-width="1.3"/>
<path d="M64.5,518.0 C65.4,517.7 67.4,516.7 70.0,516.0 C72.6,515.3 77.0,514.6 80.0,514.0 C83.0,513.4 85.3,512.4 88.0,512.5 C90.7,512.6 93.5,513.6 96.0,514.5 C98.5,515.4 100.7,516.8 103.0,518.0 C105.3,519.2 107.4,520.5 110.0,522.0 C112.6,523.5 115.3,525.8 118.7,527.0 C122.1,528.2 124.6,529.1 130.4,529.5 C136.2,529.9 144.5,529.6 153.6,529.2 C162.7,528.8 177.3,527.6 185.0,527.3 C192.7,527.0 194.7,527.0 199.5,527.5 C204.3,528.0 208.4,529.5 214.0,530.0 C219.6,530.5 226.1,530.4 233.0,530.5 C239.9,530.6 251.8,530.5 255.5,530.5" fill="none" stroke="#6FCFE0" stroke-width="1.3"/>
<path d="M76.0,508.5 C77.5,508.9 81.8,510.1 85.0,511.0 C88.2,511.9 92.0,512.8 95.0,514.0 C98.0,515.2 100.5,516.4 103.0,518.0 C105.5,519.6 107.4,521.6 110.0,523.4 C112.6,525.1 115.3,527.2 118.7,528.5 C122.1,529.8 126.0,530.8 130.4,531.4 C134.8,532.0 140.3,532.2 144.9,532.1 C149.5,532.0 152.9,531.0 158.0,530.6 C163.1,530.2 171.0,529.8 175.5,529.6 C180.0,529.4 181.0,529.4 185.0,529.2 C189.0,529.1 194.7,528.2 199.5,528.7 C204.3,529.2 208.4,531.4 214.0,532.1 C219.6,532.8 226.1,533.2 233.0,533.1 C239.9,533.0 251.8,531.7 255.5,531.4" fill="none" stroke="#F5A52A" stroke-width="1.3"/>
<path d="M64.5,523.0 C65.4,522.4 67.4,520.8 70.0,519.5 C72.6,518.2 77.0,516.5 80.0,515.5 C83.0,514.5 85.5,513.5 88.0,513.5 C90.5,513.5 93.0,514.8 95.0,515.5 C97.0,516.2 97.5,516.7 100.0,518.0 C102.5,519.3 106.9,521.8 110.0,523.4 C113.1,525.0 115.3,526.5 118.7,527.7 C122.1,528.9 126.0,529.8 130.4,530.6 C134.8,531.4 138.6,532.0 144.9,532.5 C151.2,533.0 161.5,533.3 168.2,533.5 C174.9,533.7 177.4,533.2 185.0,533.5 C192.6,533.8 206.0,534.9 214.0,535.0 C222.0,535.1 226.1,534.4 233.0,534.0 C239.9,533.6 251.8,532.8 255.5,532.5" fill="none" stroke="#2E8B57" stroke-width="1.3"/>
<path d="M64.5,521.0 C65.4,520.5 67.4,519.1 70.0,518.0 C72.6,516.9 77.0,515.3 80.0,514.5 C83.0,513.7 85.5,512.9 88.0,513.0 C90.5,513.1 93.0,514.2 95.0,515.0 C97.0,515.8 98.0,516.9 100.0,518.0 C102.0,519.1 105.3,520.5 107.0,521.5 C108.7,522.5 108.0,522.7 110.0,524.0 C112.0,525.3 115.3,527.6 118.7,529.2 C122.1,530.8 127.0,532.6 130.4,533.5 C133.8,534.4 129.3,534.2 139.0,534.3 C148.7,534.4 176.0,534.3 188.5,534.3 C201.0,534.3 206.6,534.5 214.0,534.3 C221.4,534.1 226.1,533.7 233.0,533.1 C239.9,532.5 251.8,531.0 255.5,530.6" fill="none" stroke="#111111" stroke-width="1.3"/>
<text x="272.00" y="476.00" font-size="11.5" text-anchor="start" font-weight="bold" font-style="normal" fill="#111">E</text>
<text x="327.60" y="481.60" font-size="12.5" text-anchor="start" font-weight="normal" font-style="normal" fill="#111">Ageing plasma protesome: UBE3A</text>
<line x1="324.50" y1="504.00" x2="324.50" y2="653.40" stroke="#777" stroke-width="1.1"/>
<line x1="324.50" y1="653.40" x2="541.80" y2="653.40" stroke="#777" stroke-width="1.1"/>
<line x1="322.50" y1="510.30" x2="324.50" y2="510.30" stroke="#888" stroke-width="1"/>
<text x="321.30" y="514.40" font-size="12" text-anchor="end" font-weight="normal" font-style="normal" fill="#111">4.5</text>
<line x1="322.50" y1="557.90" x2="324.50" y2="557.90" stroke="#888" stroke-width="1"/>
<text x="321.30" y="562.00" font-size="12" text-anchor="end" font-weight="normal" font-style="normal" fill="#111">4.0</text>
<line x1="322.50" y1="602.00" x2="324.50" y2="602.00" stroke="#888" stroke-width="1"/>
<text x="321.30" y="606.10" font-size="12" text-anchor="end" font-weight="normal" font-style="normal" fill="#111">3.5</text>
<line x1="322.50" y1="652.00" x2="324.50" y2="652.00" stroke="#888" stroke-width="1"/>
<text x="321.30" y="656.10" font-size="12" text-anchor="end" font-weight="normal" font-style="normal" fill="#111">3.0</text>
<line x1="336.40" y1="653.40" x2="336.40" y2="655.50" stroke="#888" stroke-width="1"/>
<text x="333.60" y="667.90" font-size="12.4" text-anchor="middle" font-weight="normal" font-style="normal" fill="#111">20</text>
<line x1="384.60" y1="653.40" x2="384.60" y2="655.50" stroke="#888" stroke-width="1"/>
<text x="382.60" y="667.90" font-size="12.4" text-anchor="middle" font-weight="normal" font-style="normal" fill="#111">40</text>
<line x1="432.80" y1="653.40" x2="432.80" y2="655.50" stroke="#888" stroke-width="1"/>
<text x="432.70" y="667.90" font-size="12.4" text-anchor="middle" font-weight="normal" font-style="normal" fill="#111">60</text>
<line x1="481.00" y1="653.40" x2="481.00" y2="655.50" stroke="#888" stroke-width="1"/>
<text x="481.10" y="667.90" font-size="12.4" text-anchor="middle" font-weight="normal" font-style="normal" fill="#111">80</text>
<line x1="529.20" y1="653.40" x2="529.20" y2="655.50" stroke="#888" stroke-width="1"/>
<text x="530.90" y="667.90" font-size="12.4" text-anchor="middle" font-weight="normal" font-style="normal" fill="#111">100</text>
<text x="416.40" y="685.50" font-size="12.5" text-anchor="start" font-weight="normal" font-style="normal" fill="#111">age (years)</text>
<text transform="translate(294.3,578.8) rotate(-90)" font-size="12.5" text-anchor="middle" fill="#111">log10(RFU)</text>
<path d="M336.6 561.4h0M336.3 583.1h0M336.2 586.8h0M336.6 595.0h0M336.1 619.7h0M336.1 620.6h0M336.3 593.9h0M336.4 560.1h0M336.2 570.8h0M336.2 558.6h0M336.4 588.0h0M336.6 604.5h0M336.1 575.2h0M336.6 579.5h0M336.3 607.2h0M336.3 590.1h0M336.2 618.0h0M336.3 581.6h0M336.5 583.9h0M336.3 596.3h0M336.6 583.1h0M336.1 561.0h0M338.5 623.2h0M339.1 601.5h0M338.9 604.2h0M339.1 605.7h0M338.6 612.7h0M339.0 583.2h0M338.6 623.7h0M339.1 545.7h0M338.6 601.8h0M338.8 615.6h0M338.9 563.2h0M338.6 577.1h0M338.8 598.3h0M338.8 558.2h0M338.9 550.9h0M339.1 579.5h0M338.8 591.9h0M338.7 597.4h0M339.0 608.5h0M338.7 580.7h0M338.8 566.3h0M338.7 564.3h0M341.1 565.6h0M341.0 598.3h0M340.9 548.0h0M341.1 604.7h0M341.4 575.7h0M341.3 549.1h0M341.2 589.3h0M341.4 594.4h0M341.3 545.5h0M340.9 573.7h0M341.5 548.6h0M341.5 605.0h0M341.4 594.9h0M341.3 575.5h0M341.2 547.6h0M341.4 578.5h0M341.2 557.7h0M341.1 577.6h0M341.0 573.7h0M341.2 617.5h0M341.4 607.9h0M341.2 577.0h0M343.4 554.3h0M343.8 574.9h0M343.4 549.2h0M343.6 564.3h0M343.8 621.0h0M343.4 573.5h0M343.6 550.5h0M343.5 597.4h0M343.4 544.1h0M343.7 573.1h0M343.7 603.4h0M343.7 616.2h0M343.4 562.0h0M343.4 591.4h0M343.4 563.1h0M343.9 557.3h0M343.8 603.6h0M343.5 599.8h0M343.8 582.4h0M343.7 632.6h0M343.6 565.4h0M343.4 586.3h0M346.1 581.6h0M346.0 608.6h0M346.0 574.4h0M346.0 548.5h0M345.8 548.3h0M345.8 571.1h0M346.3 621.3h0M345.8 609.3h0M346.2 595.4h0M346.3 555.8h0M346.2 611.5h0M345.9 604.1h0M345.9 571.9h0M346.0 619.2h0M346.0 624.1h0M345.9 595.5h0M346.0 561.3h0M345.9 567.8h0M345.9 610.0h0M345.8 574.3h0M346.1 611.8h0M345.9 618.5h0M348.4 575.5h0M348.3 557.0h0M348.5 563.9h0M348.3 580.4h0M348.7 570.4h0M348.6 632.0h0M348.3 563.2h0M348.4 579.3h0M348.5 585.0h0M348.5 549.5h0M348.5 587.9h0M348.2 569.7h0M348.2 612.9h0M348.6 610.7h0M348.2 550.2h0M348.6 567.1h0M348.2 563.8h0M348.5 611.2h0M348.4 587.4h0M348.2 545.0h0M348.2 560.2h0M348.2 565.9h0M350.9 578.9h0M350.8 598.1h0M350.6 586.7h0M351.0 626.5h0M350.8 589.1h0M350.6 619.8h0M351.2 559.4h0M350.6 597.8h0M350.7 637.2h0M351.0 597.1h0M351.1 620.2h0M351.1 621.1h0M350.7 586.6h0M351.1 560.0h0M351.1 558.1h0M350.9 576.9h0M351.1 614.9h0M350.8 602.2h0M350.6 545.5h0M350.7 561.0h0M350.9 591.8h0M350.6 559.1h0M353.4 625.1h0M353.4 556.3h0M353.0 550.6h0M353.4 562.8h0M353.3 623.3h0M353.4 617.1h0M353.1 576.5h0M353.5 547.8h0M353.4 586.2h0M353.0 584.1h0M353.4 575.7h0M353.1 572.6h0M353.0 621.3h0M353.3 620.7h0M353.4 568.6h0M353.0 564.1h0M353.3 553.1h0M353.4 591.4h0M353.2 568.4h0M353.4 568.6h0M353.0 573.5h0M353.6 612.7h0M355.5 592.4h0M355.9 577.1h0M355.9 558.6h0M355.4 571.8h0M355.9 590.5h0M355.8 579.6h0M355.6 569.9h0M356.0 559.0h0M355.5 622.4h0M355.7 601.5h0M355.7 592.7h0M355.6 557.0h0M355.5 601.5h0M355.8 572.4h0M355.5 586.6h0M355.9 595.4h0M356.0 604.3h0M355.6 594.4h0M355.5 623.4h0M355.8 600.4h0M355.5 557.4h0M358.3 554.0h0M358.1 617.6h0M358.1 615.1h0M358.0 625.4h0M358.2 566.1h0M358.3 564.9h0M358.2 593.2h0M358.2 585.5h0M358.2 617.0h0M357.9 563.7h0M357.9 580.5h0M357.9 618.4h0M357.9 603.4h0M358.3 581.2h0M358.3 599.2h0M358.0 586.5h0M358.3 613.2h0M357.9 565.6h0M357.9 623.0h0M358.1 614.5h0M357.8 584.0h0M358.2 571.0h0M360.8 587.1h0M360.6 595.3h0M360.2 576.3h0M360.6 620.1h0M360.3 592.6h0M360.8 577.8h0M360.8 602.0h0M360.8 572.0h0M360.3 610.5h0M360.7 604.1h0M360.7 599.6h0M360.4 589.4h0M360.7 588.2h0M360.3 609.3h0M360.8 601.4h0M360.7 584.5h0M360.4 551.3h0M360.5 571.3h0M360.7 552.0h0M360.4 569.9h0M360.4 591.3h0M360.5 564.3h0M363.0 569.0h0M362.7 615.0h0M362.7 609.4h0M363.0 588.8h0M362.7 625.1h0M362.9 581.8h0M362.9 569.4h0M363.1 551.4h0M362.7 554.6h0M362.9 612.8h0M363.2 584.7h0M362.7 565.2h0M362.7 605.2h0M362.9 602.1h0M362.9 583.2h0M362.8 579.2h0M362.6 546.7h0M363.1 626.9h0M363.1 584.7h0M362.9 562.5h0M363.0 552.7h0M362.9 608.8h0M365.1 565.6h0M365.3 574.1h0M365.5 625.7h0M365.3 561.7h0M365.4 560.8h0M365.1 624.8h0M365.3 572.5h0M365.4 578.3h0M365.0 553.9h0M365.1 545.6h0M365.2 589.6h0M365.4 600.2h0M365.1 592.4h0M365.4 597.0h0M365.5 599.4h0M365.6 553.2h0M365.1 616.5h0M365.5 603.2h0M365.0 547.8h0M365.6 592.4h0M365.5 587.8h0M365.3 553.4h0M367.8 626.4h0M367.8 608.1h0M368.0 583.7h0M367.4 580.0h0M367.9 625.9h0M367.7 555.0h0M367.7 591.7h0M367.6 620.7h0M367.5 602.0h0M367.6 603.6h0M367.8 585.8h0M367.4 592.8h0M367.8 617.4h0M367.6 576.9h0M367.9 623.5h0M368.0 570.9h0M367.5 583.5h0M367.5 581.9h0M367.7 608.2h0M367.7 623.0h0M367.6 606.9h0M367.8 596.0h0M369.9 585.4h0M370.2 581.8h0M370.1 586.6h0M370.0 609.8h0M370.0 601.5h0M370.4 557.9h0M369.9 590.1h0M370.4 566.6h0M370.3 625.0h0M370.1 608.7h0M370.1 589.3h0M370.3 609.6h0M370.1 583.0h0M370.2 620.9h0M370.2 576.6h0M369.9 574.1h0M370.0 587.7h0M370.0 593.7h0M370.0 561.6h0M370.0 611.1h0M370.3 574.4h0M370.1 587.3h0M372.4 551.7h0M372.6 568.0h0M372.8 561.8h0M372.4 593.1h0M372.4 640.3h0M372.6 581.6h0M372.8 555.7h0M372.5 626.6h0M372.5 547.9h0M372.8 584.9h0M372.8 608.4h0M372.4 552.4h0M372.8 552.4h0M372.8 560.0h0M372.7 564.3h0M372.8 622.2h0M372.3 590.3h0M372.4 560.0h0M372.7 605.6h0M372.4 553.3h0M372.7 561.3h0M372.6 581.2h0M374.9 575.7h0M375.2 611.2h0M375.1 534.1h0M374.7 613.3h0M375.1 575.6h0M375.2 596.6h0M374.7 582.2h0M374.9 589.3h0M374.9 554.5h0M374.8 605.4h0M374.9 617.9h0M374.8 579.3h0M374.8 591.8h0M374.9 585.2h0M375.0 557.6h0M375.2 609.6h0M374.7 613.5h0M375.2 597.5h0M374.8 566.4h0M374.9 577.0h0M375.2 613.3h0M374.9 597.5h0M377.6 609.7h0M377.1 574.5h0M377.2 567.7h0M377.2 568.8h0M377.6 613.0h0M377.2 607.4h0M377.4 599.9h0M377.1 570.3h0M377.6 587.6h0M377.4 583.6h0M377.5 568.1h0M377.5 606.8h0M377.2 599.6h0M377.1 625.8h0M377.6 592.1h0M377.7 621.4h0M377.2 574.3h0M377.6 599.2h0M377.6 607.3h0M377.5 553.8h0M377.6 547.1h0M377.1 565.0h0M380.1 590.5h0M379.9 621.0h0M379.9 613.7h0M379.7 564.5h0M379.6 552.7h0M379.8 583.1h0M379.5 562.8h0M379.8 617.5h0M379.9 563.6h0M380.0 577.5h0M379.9 597.1h0M379.5 594.4h0M379.7 607.6h0M379.9 593.3h0M379.7 591.0h0M379.7 600.8h0M379.9 558.4h0M379.6 553.9h0M379.9 561.5h0M379.7 579.5h0M380.1 578.9h0M382.3 588.1h0M382.4 561.9h0M382.0 553.2h0M381.9 564.4h0M382.0 573.5h0M382.4 623.6h0M381.9 562.4h0M382.2 621.4h0M382.4 617.6h0M382.3 567.5h0M382.2 568.5h0M382.1 563.2h0M382.4 575.1h0M382.4 584.2h0M382.0 572.4h0M382.1 624.5h0M382.1 617.0h0M382.4 567.1h0M381.9 549.7h0M382.1 594.7h0M382.4 587.4h0M382.2 607.6h0M384.6 636.4h0M384.4 556.5h0M384.8 567.7h0M384.9 615.2h0M384.7 582.0h0M384.4 578.9h0M384.4 590.1h0M384.4 626.4h0M384.5 619.6h0M384.8 554.1h0M384.5 568.6h0M384.7 588.1h0M384.7 545.6h0M384.6 571.2h0M384.6 599.8h0M384.8 564.0h0M384.7 624.5h0M384.9 571.7h0M384.5 591.3h0M384.5 584.5h0M384.7 570.6h0M384.7 612.7h0M387.0 600.5h0M386.8 550.6h0M387.1 586.1h0M387.0 594.8h0M387.2 607.9h0M387.2 601.7h0M386.9 574.7h0M386.8 570.5h0M386.9 569.2h0M387.0 598.8h0M387.2 566.1h0M387.0 618.2h0M386.8 591.3h0M387.1 596.8h0M386.7 545.9h0M387.3 590.3h0M386.7 553.1h0M387.2 559.4h0M387.2 616.4h0M386.8 556.8h0M387.0 556.9h0M386.8 547.4h0M389.6 580.3h0M389.5 601.1h0M389.3 564.5h0M389.6 596.6h0M389.2 564.5h0M389.1 596.2h0M389.6 577.5h0M389.3 549.5h0M389.5 558.1h0M389.6 545.5h0M389.3 579.3h0M389.5 594.9h0M389.4 593.0h0M389.1 603.4h0M389.2 584.8h0M389.1 576.1h0M389.3 567.9h0M389.3 599.9h0M389.4 623.8h0M389.4 563.6h0M389.3 580.7h0M389.3 611.0h0M391.9 609.6h0M391.7 610.2h0M391.8 562.8h0M391.7 592.6h0M392.0 561.8h0M392.1 622.3h0M392.1 581.1h0M391.8 578.1h0M391.9 606.6h0M392.0 614.9h0M391.5 578.1h0M391.5 556.9h0M392.0 602.0h0M392.1 560.4h0M392.0 619.9h0M391.6 599.4h0M391.8 612.0h0M391.8 614.2h0M392.0 596.5h0M391.6 621.8h0M391.9 610.6h0M391.8 623.0h0M394.0 591.9h0M394.3 567.2h0M394.2 600.5h0M394.4 580.3h0M394.3 605.5h0M394.3 622.2h0M394.3 585.8h0M394.5 570.9h0M394.3 607.6h0M394.5 558.5h0M394.5 602.1h0M394.1 548.0h0M394.2 556.0h0M394.3 626.8h0M394.1 588.2h0M394.2 629.8h0M394.4 586.3h0M394.3 565.9h0M394.4 600.2h0M394.2 565.6h0M394.4 623.1h0M394.0 559.3h0M396.5 624.0h0M396.7 552.6h0M396.6 601.3h0M396.4 602.9h0M396.7 555.9h0M396.8 555.9h0M396.7 564.7h0M396.9 579.8h0M396.9 557.7h0M396.8 572.4h0M396.4 584.9h0M396.5 595.1h0M396.9 570.3h0M396.7 581.5h0M396.4 590.7h0M396.6 625.3h0M396.8 572.2h0M396.9 597.9h0M396.5 609.3h0M396.5 552.5h0M396.8 604.9h0M396.8 551.4h0M399.3 575.2h0M399.2 618.4h0M398.9 603.9h0M399.1 576.1h0M398.8 563.9h0M398.8 595.6h0M399.3 610.8h0M399.0 570.4h0M399.0 562.7h0M399.1 626.6h0M398.9 556.6h0M399.0 597.2h0M398.9 602.2h0M399.1 547.6h0M399.1 563.9h0M398.8 550.9h0M398.8 618.0h0M398.9 623.4h0M398.8 576.1h0M399.0 571.9h0M399.0 587.4h0M398.9 596.3h0M401.6 611.4h0M401.5 599.0h0M401.6 575.2h0M401.5 616.0h0M401.3 614.5h0M401.3 601.7h0M401.7 590.5h0M401.4 564.7h0M401.8 563.6h0M401.3 606.5h0M401.6 558.3h0M401.6 600.0h0M401.5 582.6h0M401.7 605.3h0M401.6 614.8h0M401.5 604.9h0M401.7 607.2h0M401.5 623.8h0M401.5 601.2h0M401.2 595.8h0M401.4 595.7h0M401.6 548.4h0M404.1 556.1h0M403.7 626.1h0M403.8 604.7h0M404.1 614.0h0M403.7 546.0h0M403.9 587.1h0M404.1 585.1h0M403.8 574.2h0M404.1 547.8h0M404.0 574.1h0M403.8 626.1h0M403.9 611.4h0M403.7 566.2h0M404.1 611.1h0M404.2 565.5h0M403.7 560.5h0M404.2 547.0h0M403.6 584.7h0M404.0 615.8h0M404.2 614.1h0M403.7 581.8h0M403.9 601.1h0M406.4 555.7h0M406.4 612.2h0M406.6 583.4h0M406.3 572.5h0M406.5 565.4h0M406.4 596.7h0M406.0 576.5h0M406.3 566.5h0M406.5 602.3h0M406.0 610.5h0M406.3 580.0h0M406.5 609.9h0M406.1 610.3h0M406.2 624.0h0M406.1 615.0h0M406.4 581.4h0M406.5 617.5h0M406.5 618.3h0M406.1 564.8h0M406.4 617.9h0M406.5 577.5h0M406.4 574.6h0M408.4 624.2h0M408.8 620.8h0M408.7 574.0h0M408.8 579.1h0M408.9 620.6h0M408.9 559.4h0M408.8 607.2h0M408.4 546.6h0M408.6 618.2h0M408.5 553.2h0M408.4 555.6h0M408.7 611.9h0M408.6 545.4h0M408.6 546.2h0M408.9 571.4h0M408.8 584.9h0M408.9 607.9h0M408.9 595.2h0M408.6 628.6h0M408.6 589.8h0M408.6 570.7h0M408.5 613.5h0M411.0 613.9h0M411.2 573.2h0M410.9 582.1h0M411.2 570.5h0M411.1 578.1h0M411.2 598.1h0M411.1 602.9h0M411.0 588.4h0M410.9 590.8h0M411.2 599.6h0M411.4 625.3h0M411.1 555.0h0M411.0 608.7h0M411.4 605.5h0M411.3 584.0h0M411.2 564.0h0M410.9 615.5h0M411.4 582.0h0M411.3 562.4h0M410.8 599.1h0M411.0 616.8h0M411.4 575.8h0M413.2 567.4h0M413.4 603.2h0M413.5 571.7h0M413.5 617.1h0M413.8 592.9h0M413.8 559.6h0M413.3 569.6h0M413.4 616.5h0M413.8 595.0h0M413.7 549.3h0M413.7 585.3h0M413.3 580.7h0M413.6 578.6h0M413.3 616.6h0M413.4 586.2h0M413.5 629.3h0M413.6 579.0h0M413.4 577.5h0M413.6 572.2h0M413.6 556.1h0M413.7 602.3h0M413.3 618.3h0M415.9 577.8h0M416.0 563.4h0M416.2 589.7h0M416.2 613.8h0M416.1 624.6h0M416.1 587.5h0M416.2 567.1h0M416.1 548.9h0M415.8 595.2h0M415.9 548.4h0M415.9 572.1h0M415.9 585.4h0M415.7 576.4h0M416.2 567.0h0M415.8 613.3h0M416.0 626.1h0M416.1 626.3h0M416.0 552.1h0M415.9 603.7h0M415.9 601.2h0M416.0 582.4h0M415.9 598.1h0M415.9 591.0h0M418.1 601.3h0M418.2 569.6h0M418.1 612.7h0M418.5 558.0h0M418.6 614.0h0M418.4 593.3h0M418.1 539.2h0M418.1 575.3h0M418.1 600.2h0M418.6 559.6h0M418.4 598.3h0M418.6 576.1h0M418.5 578.6h0M418.4 574.9h0M418.4 569.8h0M418.3 568.8h0M418.5 597.0h0M418.0 587.4h0M418.4 585.1h0M418.5 587.9h0M418.0 590.6h0M418.2 593.4h0M418.2 587.8h0M418.3 588.9h0M420.6 623.6h0M421.0 597.1h0M420.5 575.8h0M420.8 611.0h0M421.0 564.6h0M421.0 595.7h0M420.8 581.2h0M421.0 561.7h0M420.7 581.5h0M420.8 621.7h0M421.0 610.1h0M421.0 580.8h0M420.7 550.3h0M420.5 606.7h0M420.8 561.4h0M420.6 605.4h0M420.7 576.8h0M420.8 614.5h0M421.0 585.7h0M420.9 582.3h0M421.0 572.5h0M421.0 606.3h0M420.6 615.6h0M421.0 606.1h0M422.9 587.6h0M423.0 599.4h0M423.3 617.6h0M423.1 565.4h0M423.0 589.2h0M423.3 562.0h0M422.9 565.0h0M423.1 554.6h0M423.3 603.0h0M422.9 545.7h0M423.0 588.9h0M423.0 561.4h0M423.2 580.2h0M423.0 604.7h0M423.4 559.8h0M423.4 556.2h0M423.3 581.9h0M423.0 558.5h0M423.3 606.4h0M423.3 558.0h0M423.1 587.3h0M422.9 552.5h0M423.3 578.4h0M423.4 583.6h0M423.0 612.0h0M425.7 616.3h0M425.4 570.4h0M425.8 562.6h0M425.9 563.9h0M425.4 557.8h0M425.4 601.9h0M425.5 560.1h0M425.5 548.2h0M425.7 562.3h0M425.6 551.0h0M425.8 609.1h0M425.4 555.6h0M425.6 569.8h0M425.7 594.1h0M425.8 611.8h0M425.6 569.6h0M425.4 545.1h0M425.4 569.6h0M425.5 584.4h0M425.8 554.0h0M425.7 581.6h0M425.5 558.2h0M425.6 591.9h0M425.8 599.7h0M425.7 593.0h0M425.3 567.1h0M427.9 613.6h0M427.8 553.7h0M428.0 567.2h0M428.0 565.2h0M428.2 566.0h0M428.3 590.5h0M428.1 613.3h0M427.7 564.7h0M428.2 549.4h0M428.1 562.3h0M428.2 559.0h0M427.7 556.2h0M428.1 554.9h0M428.1 565.0h0M428.2 612.2h0M427.7 572.7h0M427.8 608.4h0M428.1 551.9h0M427.9 560.0h0M428.2 601.4h0M427.8 609.7h0M428.2 558.7h0M428.1 618.7h0M427.7 597.2h0M427.9 595.9h0M428.0 607.5h0M427.9 606.7h0M428.1 602.0h0M428.0 560.1h0M428.0 568.8h0M427.7 601.4h0M428.2 596.1h0M430.5 576.6h0M430.4 546.3h0M430.1 596.9h0M430.6 582.8h0M430.4 596.2h0M430.4 617.0h0M430.6 571.4h0M430.3 599.4h0M430.3 608.5h0M430.2 622.7h0M430.5 609.9h0M430.3 567.7h0M430.6 623.0h0M430.3 578.7h0M430.1 589.7h0M430.1 583.2h0M430.2 626.4h0M430.3 595.1h0M430.2 564.8h0M430.6 575.8h0M430.2 572.3h0M430.6 573.8h0M430.6 577.6h0M430.5 592.3h0M430.1 594.4h0M430.2 579.1h0M430.5 591.6h0M430.7 599.6h0M430.2 582.1h0M430.2 562.4h0M430.2 596.3h0M430.3 604.9h0M430.6 569.8h0M430.5 582.9h0M430.6 605.0h0M430.2 579.4h0M432.6 593.0h0M433.1 588.7h0M433.1 552.6h0M433.1 567.0h0M432.6 631.8h0M432.9 630.6h0M432.5 613.8h0M432.6 584.6h0M433.1 574.1h0M432.7 624.2h0M432.8 570.5h0M433.0 594.6h0M432.5 616.6h0M432.9 593.6h0M433.0 537.4h0M432.7 607.5h0M432.8 558.6h0M432.7 626.2h0M432.7 580.9h0M433.1 580.5h0M432.7 592.1h0M432.5 584.0h0M433.0 591.8h0M432.5 603.5h0M433.0 604.8h0M432.6 570.1h0M432.9 619.8h0M432.9 607.9h0M433.0 628.6h0M432.9 604.2h0M433.1 593.3h0M432.6 592.6h0M432.7 582.6h0M433.0 576.4h0M432.7 570.5h0M432.9 591.9h0M433.1 605.9h0M432.6 596.1h0M435.3 593.7h0M435.0 586.6h0M435.4 592.8h0M435.0 620.2h0M435.1 620.0h0M434.9 574.6h0M435.1 613.3h0M435.1 622.0h0M435.3 582.0h0M435.3 569.4h0M435.1 574.5h0M435.4 597.5h0M435.2 553.9h0M435.0 628.3h0M435.2 613.1h0M435.3 630.2h0M435.2 554.6h0M435.1 590.7h0M435.0 620.8h0M435.1 617.6h0M435.3 585.5h0M435.1 617.0h0M435.5 625.1h0M435.1 612.4h0M435.2 587.5h0M435.1 610.7h0M435.3 605.7h0M435.2 599.5h0M435.4 570.9h0M435.0 613.4h0M435.4 621.6h0M435.4 609.6h0M435.4 582.7h0M435.4 590.7h0M435.4 624.9h0M434.9 607.1h0M435.2 593.7h0M435.2 570.5h0M435.3 594.6h0M435.0 604.2h0M435.3 595.2h0M435.4 624.4h0M435.4 611.2h0M437.5 582.1h0M437.9 623.8h0M437.6 592.9h0M437.5 583.1h0M437.4 627.0h0M437.6 617.2h0M437.9 589.8h0M437.4 563.1h0M437.6 577.9h0M437.9 617.1h0M437.4 614.4h0M437.8 625.1h0M437.6 596.8h0M437.4 594.4h0M437.4 622.4h0M437.9 590.3h0M437.9 597.8h0M437.8 625.1h0M437.8 609.5h0M437.8 604.2h0M437.8 586.4h0M437.6 597.7h0M437.9 603.5h0M437.7 591.4h0M437.7 588.7h0M437.9 626.3h0M437.6 621.1h0M437.9 585.4h0M437.7 601.2h0M437.3 613.0h0M437.8 583.3h0M437.4 589.6h0M437.5 595.0h0M437.9 606.7h0M437.3 612.3h0M437.4 606.5h0M437.6 595.2h0M437.7 570.3h0M437.7 594.2h0M437.4 613.5h0M437.7 613.1h0M437.7 577.7h0M437.6 581.1h0M437.4 606.4h0M437.4 631.4h0M437.5 588.9h0M437.5 595.6h0M437.4 609.8h0M437.4 602.0h0M440.3 554.6h0M440.2 568.9h0M439.8 596.4h0M440.1 594.4h0M440.2 624.9h0M439.9 601.5h0M440.2 562.7h0M439.8 615.2h0M440.1 627.7h0M440.2 601.8h0M439.9 596.2h0M439.9 621.7h0M440.2 580.5h0M439.9 613.7h0M439.8 558.3h0M440.0 620.1h0M439.8 557.1h0M439.8 568.9h0M440.3 571.6h0M440.0 594.5h0M440.2 606.1h0M440.2 579.2h0M440.1 629.3h0M439.8 627.8h0M439.9 583.7h0M439.8 599.2h0M440.1 575.1h0M439.8 572.5h0M439.8 620.0h0M440.1 591.9h0M440.2 622.5h0M440.0 616.6h0M440.3 599.0h0M440.0 605.0h0M440.3 625.2h0M440.0 621.2h0M440.2 613.4h0M439.9 620.5h0M440.2 603.0h0M439.8 623.1h0M439.9 580.6h0M440.0 602.8h0M439.8 595.8h0M439.8 613.3h0M440.3 607.7h0M440.1 634.6h0M440.0 598.8h0M440.1 623.1h0M440.2 593.1h0M439.7 582.3h0M440.2 624.0h0M440.3 598.9h0M440.0 615.3h0M439.9 610.7h0M440.1 605.5h0M442.7 590.8h0M442.4 592.9h0M442.3 567.3h0M442.3 571.1h0M442.4 592.7h0M442.7 600.9h0M442.4 586.0h0M442.4 593.7h0M442.4 560.1h0M442.6 627.7h0M442.5 616.5h0M442.6 574.5h0M442.4 608.3h0M442.5 592.8h0M442.7 597.9h0M442.2 607.0h0M442.5 613.8h0M442.4 581.2h0M442.7 588.9h0M442.6 604.1h0M442.6 614.1h0M442.7 616.4h0M442.3 578.7h0M442.2 612.6h0M442.4 615.0h0M442.7 620.6h0M442.5 592.4h0M442.4 617.0h0M442.6 607.5h0M442.2 628.7h0M442.4 608.6h0M442.3 567.1h0M442.2 578.0h0M442.5 575.8h0M442.3 603.9h0M442.7 609.7h0M442.2 600.7h0M442.4 611.5h0M442.6 605.0h0M442.3 587.0h0M442.6 625.0h0M442.4 586.0h0M442.7 581.7h0M442.2 607.0h0M442.2 618.9h0M442.6 606.5h0M442.4 626.1h0M442.4 595.8h0M442.5 608.3h0M442.4 604.6h0M442.7 581.9h0M442.3 589.0h0M442.6 604.4h0M442.3 608.3h0M442.4 579.2h0M442.7 613.1h0M442.3 585.2h0M442.7 592.9h0M442.4 610.7h0M442.6 611.2h0M442.4 601.2h0M444.6 560.5h0M444.9 622.8h0M444.8 589.6h0M444.8 595.4h0M444.7 554.0h0M445.0 579.4h0M444.9 561.4h0M444.7 596.0h0M445.0 599.4h0M444.9 620.0h0M444.8 557.2h0M444.6 613.3h0M444.9 558.2h0M444.6 596.9h0M444.7 597.3h0M445.1 566.0h0M444.7 583.3h0M444.6 558.6h0M444.6 589.6h0M445.0 575.3h0M444.7 619.3h0M444.6 608.3h0M444.7 605.6h0M444.6 627.5h0M445.0 630.8h0M444.8 586.4h0M444.6 620.9h0M444.6 612.8h0M444.8 615.0h0M444.9 574.2h0M444.6 574.2h0M444.7 590.3h0M444.9 567.0h0M444.7 616.5h0M444.9 612.2h0M445.0 614.2h0M445.1 614.3h0M445.1 595.6h0M444.8 622.7h0M445.0 593.4h0M444.9 592.3h0M445.0 602.0h0M444.7 609.4h0M444.9 620.9h0M445.0 621.0h0M445.1 590.1h0M444.6 602.9h0M444.9 613.2h0M444.9 629.2h0M445.1 619.6h0M444.9 570.2h0M445.0 597.9h0M444.6 629.0h0M444.6 594.9h0M444.6 603.5h0M444.6 607.2h0M444.8 621.2h0M444.6 599.6h0M444.6 608.3h0M445.0 567.2h0M445.0 609.1h0M444.8 603.2h0M445.0 597.5h0M445.1 624.3h0M445.1 607.5h0M445.0 586.1h0M445.0 612.9h0M444.8 596.1h0M445.1 616.0h0M445.1 594.9h0M444.9 612.7h0M447.3 630.1h0M447.5 610.4h0M447.0 604.8h0M447.2 570.5h0M447.1 586.6h0M447.6 555.0h0M447.5 577.4h0M447.2 581.4h0M447.0 627.4h0M447.4 612.5h0M447.5 624.9h0M447.5 556.2h0M447.1 564.0h0M447.2 578.1h0M447.4 571.2h0M447.5 556.4h0M447.4 577.6h0M447.5 623.6h0M447.4 541.1h0M447.5 578.0h0M447.5 595.5h0M447.2 593.6h0M447.5 628.6h0M447.2 627.3h0M447.5 609.0h0M447.1 612.5h0M447.5 601.7h0M447.2 622.8h0M447.2 621.6h0M447.3 570.4h0M447.2 592.3h0M447.5 610.1h0M447.5 615.9h0M447.5 625.2h0M447.3 601.8h0M447.0 607.6h0M447.3 592.8h0M447.0 598.3h0M447.2 584.9h0M447.4 585.7h0M447.2 609.7h0M447.6 609.3h0M447.4 624.5h0M447.5 610.4h0M447.5 598.2h0M447.0 626.2h0M447.3 616.2h0M447.0 608.9h0M447.4 629.1h0M447.1 573.7h0M447.1 616.6h0M447.0 618.5h0M447.1 607.0h0M447.3 599.3h0M447.5 615.3h0M447.4 593.8h0M447.1 614.7h0M447.5 631.8h0M447.2 587.3h0M447.1 607.5h0M447.3 574.6h0M447.5 618.2h0M447.2 601.8h0M447.1 604.4h0M447.4 602.1h0M447.1 584.9h0M447.1 579.8h0M447.2 621.3h0M447.1 607.9h0M447.5 609.6h0M447.1 576.1h0M447.2 606.0h0M447.2 604.8h0M447.0 612.5h0M447.4 611.5h0M447.3 576.8h0M447.0 619.2h0M447.2 574.3h0M447.5 608.7h0M447.1 597.1h0M449.7 628.5h0M449.6 583.9h0M449.9 569.6h0M449.8 596.2h0M449.9 562.9h0M449.7 592.9h0M449.7 574.1h0M449.8 595.9h0M449.4 627.0h0M449.7 600.8h0M449.4 599.0h0M449.7 631.9h0M449.5 623.3h0M449.6 627.1h0M449.8 568.8h0M449.5 576.9h0M450.0 561.8h0M449.4 609.9h0M450.0 596.1h0M449.7 614.6h0M449.6 585.9h0M449.4 611.3h0M449.4 606.6h0M449.8 622.1h0M449.6 615.3h0M449.9 616.2h0M449.4 622.4h0M449.6 582.9h0M449.4 622.6h0M449.9 618.1h0M449.7 584.4h0M449.9 599.2h0M449.7 595.1h0M449.4 602.9h0M449.8 614.0h0M449.8 615.0h0M449.7 615.7h0M449.7 621.4h0M449.8 604.6h0M449.8 595.9h0M449.6 604.8h0M449.7 607.0h0M449.5 601.9h0M449.5 604.0h0M449.7 644.1h0M449.8 604.8h0M449.9 608.5h0M449.9 601.2h0M450.0 581.7h0M449.6 614.6h0M449.6 610.2h0M449.4 596.6h0M449.5 612.2h0M449.6 623.3h0M449.9 576.6h0M449.4 603.5h0M449.5 593.0h0M449.5 612.1h0M449.7 631.3h0M449.8 614.9h0M449.8 597.0h0M449.9 606.4h0M449.9 598.2h0M449.9 584.1h0M449.9 606.0h0M449.5 625.4h0M449.6 596.3h0M449.9 629.2h0M449.7 622.2h0M449.9 598.5h0M449.9 617.2h0M449.9 613.8h0M449.5 597.9h0M449.5 593.3h0M449.4 633.5h0M450.0 621.9h0M449.6 612.8h0M449.6 620.1h0M449.6 611.6h0M449.7 601.7h0M449.5 623.2h0M449.6 607.8h0M449.9 588.2h0M449.7 559.3h0M449.7 617.7h0M449.4 583.4h0M449.4 621.5h0M449.6 578.4h0M452.0 613.6h0M452.1 628.5h0M452.3 614.2h0M452.3 590.5h0M452.2 628.7h0M451.9 567.1h0M452.2 608.8h0M451.9 585.6h0M452.2 593.2h0M451.9 592.2h0M451.8 574.9h0M452.2 598.4h0M451.8 630.0h0M452.2 623.6h0M452.2 580.0h0M452.1 566.5h0M451.9 606.2h0M452.2 598.8h0M452.2 582.5h0M452.2 606.9h0M452.3 616.0h0M452.3 575.9h0M451.8 612.6h0M452.0 602.0h0M452.0 619.3h0M452.1 622.4h0M451.9 608.7h0M452.0 615.2h0M451.8 608.4h0M452.2 596.6h0M451.9 617.6h0M452.0 617.2h0M452.3 590.6h0M451.8 602.8h0M452.4 595.9h0M451.8 621.3h0M451.9 588.8h0M452.0 616.2h0M452.2 596.2h0M452.2 615.7h0M452.0 602.3h0M452.3 601.8h0M452.1 621.4h0M452.3 587.6h0M452.0 568.3h0M452.2 625.8h0M452.0 617.4h0M452.1 615.6h0M452.1 621.5h0M452.0 586.4h0M452.0 609.5h0M452.0 613.8h0M452.0 629.0h0M451.8 594.6h0M451.9 615.4h0M451.9 601.9h0M452.3 624.3h0M452.1 610.0h0M451.9 591.1h0M451.8 599.3h0M452.4 619.5h0M451.8 595.2h0M451.9 567.3h0M451.9 621.5h0M452.0 586.3h0M451.9 596.9h0M452.1 623.2h0M452.2 615.7h0M451.9 636.4h0M451.9 597.3h0M451.8 594.6h0M452.2 596.4h0M452.3 602.7h0M452.3 631.2h0M452.0 608.3h0M452.0 612.8h0M452.4 608.2h0M451.8 610.6h0M452.1 608.9h0M452.2 612.2h0M452.0 618.7h0M452.1 607.6h0M452.0 593.2h0M452.0 599.4h0M452.2 615.2h0M451.8 586.0h0M452.2 602.4h0M452.2 603.3h0M452.0 612.4h0M452.0 604.4h0M452.1 610.7h0M452.3 597.1h0M452.1 607.0h0M451.8 588.9h0M452.3 606.9h0M452.0 620.1h0M452.0 598.3h0M454.6 603.3h0M454.6 556.9h0M454.3 554.9h0M454.3 585.9h0M454.4 580.4h0M454.8 631.6h0M454.4 591.3h0M454.6 614.6h0M454.3 577.7h0M454.3 609.3h0M454.3 597.8h0M454.7 608.7h0M454.7 589.7h0M454.5 614.6h0M454.2 613.6h0M454.5 571.0h0M454.3 595.6h0M454.6 584.0h0M454.3 613.1h0M454.4 600.9h0M454.6 612.4h0M454.5 629.5h0M454.3 615.3h0M454.3 588.2h0M454.8 596.2h0M454.7 589.6h0M454.7 589.2h0M454.3 634.8h0M454.4 623.4h0M454.4 622.5h0M454.3 584.2h0M454.5 620.6h0M454.4 619.7h0M454.4 576.7h0M454.6 580.1h0M454.8 596.9h0M454.3 605.7h0M454.2 618.7h0M454.3 595.1h0M454.5 621.0h0M454.3 614.0h0M454.7 612.2h0M454.2 582.5h0M454.4 621.0h0M454.5 608.0h0M454.3 585.3h0M454.7 613.0h0M454.6 608.7h0M454.4 568.7h0M454.3 610.5h0M454.4 597.3h0M454.8 632.2h0M454.6 586.2h0M454.7 587.2h0M454.5 619.0h0M454.2 636.9h0M454.5 623.0h0M454.7 608.1h0M454.7 613.6h0M454.3 607.9h0M454.7 616.2h0M454.4 614.5h0M454.6 620.7h0M454.2 598.0h0M454.2 610.5h0M454.6 584.8h0M454.3 606.2h0M454.5 562.4h0M454.2 597.2h0M454.6 604.9h0M454.6 638.0h0M454.4 578.0h0M454.7 601.0h0M454.8 591.9h0M454.3 622.2h0M454.5 618.5h0M454.5 591.7h0M454.6 599.4h0M454.6 591.8h0M454.7 620.6h0M454.3 602.9h0M454.8 582.6h0M454.8 617.1h0M454.7 614.1h0M454.4 627.7h0M454.7 611.2h0M454.7 627.8h0M454.3 582.5h0M454.5 631.7h0M454.6 587.6h0M454.8 607.9h0M454.6 594.5h0M454.7 618.1h0M454.4 624.5h0M454.5 633.8h0M454.7 627.6h0M454.5 623.9h0M454.2 606.6h0M454.7 578.1h0M454.3 625.7h0M454.7 604.3h0M454.8 578.1h0M454.4 603.7h0M454.3 624.4h0M454.3 586.3h0M454.5 591.5h0M456.8 568.5h0M456.8 584.0h0M457.2 552.0h0M457.1 571.4h0M457.1 612.3h0M456.9 612.0h0M456.7 553.8h0M456.8 577.1h0M456.7 594.7h0M457.1 601.5h0M456.9 577.9h0M456.8 563.5h0M456.7 628.9h0M457.2 569.3h0M457.2 567.1h0M457.0 561.5h0M456.8 589.1h0M456.7 564.6h0M457.1 593.3h0M456.8 619.7h0M456.8 612.0h0M456.7 612.0h0M456.6 601.9h0M457.1 622.9h0M456.7 616.7h0M456.8 592.8h0M457.1 557.0h0M457.0 576.6h0M456.7 578.0h0M456.7 603.0h0M456.8 591.5h0M456.8 597.9h0M456.9 616.4h0M456.8 574.2h0M456.7 580.6h0M457.0 606.7h0M456.7 608.1h0M456.6 617.2h0M457.0 609.8h0M456.9 620.1h0M456.7 562.7h0M457.1 577.6h0M456.8 599.1h0M456.9 593.0h0M457.1 615.7h0M456.8 611.2h0M456.9 587.4h0M456.9 604.0h0M456.9 621.4h0M456.7 613.1h0M456.9 617.8h0M457.0 625.4h0M456.9 596.6h0M456.9 605.4h0M456.9 616.9h0M456.8 604.9h0M457.1 613.4h0M457.1 611.6h0M457.0 621.8h0M456.9 615.0h0M457.1 604.2h0M456.7 601.2h0M456.6 602.7h0M457.0 611.5h0M456.8 578.6h0M457.1 609.2h0M457.0 607.2h0M457.2 594.8h0M457.0 625.2h0M457.2 607.6h0M457.0 602.7h0M456.7 606.1h0M456.8 620.8h0M457.0 618.6h0M456.9 615.4h0M457.1 602.8h0M456.8 628.5h0M456.7 636.3h0M456.7 612.2h0M456.9 624.4h0M456.9 580.4h0M457.1 586.6h0M456.8 579.0h0M457.2 620.8h0M456.9 637.0h0M456.7 601.9h0M456.8 573.6h0M456.9 604.7h0M456.7 607.9h0M456.9 615.2h0M457.1 617.9h0M457.0 575.0h0M456.9 580.5h0M456.9 596.5h0M456.7 627.6h0M457.0 632.7h0M456.9 612.5h0M456.6 610.5h0M456.9 629.8h0M457.2 613.9h0M456.8 631.7h0M456.9 603.0h0M457.2 612.7h0M457.0 616.7h0M457.0 619.0h0M456.7 618.3h0M457.0 629.5h0M457.1 633.6h0M456.9 620.2h0M457.0 635.8h0M456.7 618.6h0M456.8 616.6h0M457.0 617.0h0M456.6 634.7h0M457.1 622.0h0M456.6 619.9h0M459.2 591.4h0M459.2 582.3h0M459.6 574.9h0M459.1 594.2h0M459.3 604.7h0M459.0 592.4h0M459.3 574.3h0M459.4 603.8h0M459.4 599.7h0M459.5 590.0h0M459.1 589.5h0M459.0 600.3h0M459.5 570.8h0M459.5 623.0h0M459.5 586.4h0M459.1 598.4h0M459.2 575.3h0M459.1 610.9h0M459.4 609.4h0M459.1 591.8h0M459.4 637.8h0M459.6 590.2h0M459.4 570.1h0M459.1 621.4h0M459.5 596.5h0M459.5 598.8h0M459.2 602.4h0M459.0 596.3h0M459.5 611.5h0M459.5 622.9h0M459.1 601.1h0M459.0 626.6h0M459.5 583.9h0M459.5 614.8h0M459.5 602.6h0M459.0 606.8h0M459.2 617.0h0M459.3 596.5h0M459.6 603.4h0M459.4 596.5h0M459.1 619.6h0M459.4 596.7h0M459.4 620.8h0M459.0 624.1h0M459.1 607.1h0M459.5 624.0h0M459.4 591.2h0M459.1 577.1h0M459.1 611.9h0M459.6 615.9h0M459.1 614.2h0M459.4 638.5h0M459.2 622.9h0M459.2 605.2h0M459.2 608.9h0M459.3 594.2h0M459.1 612.0h0M459.5 608.4h0M459.2 593.6h0M459.0 619.2h0M459.3 617.6h0M459.4 608.7h0M459.3 619.4h0M459.5 636.4h0M459.2 591.8h0M459.1 599.0h0M459.1 608.8h0M459.5 621.2h0M459.5 621.5h0M459.4 575.6h0M459.2 607.0h0M459.5 631.2h0M459.3 616.4h0M459.3 630.0h0M459.6 599.8h0M459.1 584.4h0M459.6 599.7h0M459.4 617.7h0M459.3 624.4h0M459.2 609.0h0M459.5 619.6h0M459.4 608.4h0M459.2 608.7h0M459.2 582.8h0M459.6 613.3h0M459.3 605.6h0M459.5 617.6h0M459.1 613.5h0M459.2 618.8h0M459.4 586.4h0M459.1 617.0h0M459.5 622.1h0M459.1 625.3h0M459.1 609.9h0M459.5 617.1h0M459.6 613.3h0M459.3 604.7h0M459.6 616.8h0M459.1 559.5h0M459.0 599.1h0M459.2 598.3h0M459.3 616.4h0M459.4 633.8h0M459.3 630.8h0M459.2 615.7h0M459.1 608.1h0M459.3 611.5h0M459.6 604.7h0M459.5 627.5h0M459.4 614.9h0M459.4 600.7h0M459.4 600.8h0M459.6 620.8h0M459.5 621.9h0M459.2 608.7h0M459.5 626.3h0M459.5 628.2h0M459.6 608.1h0M459.2 591.2h0M459.1 608.0h0M459.3 637.1h0M459.6 604.9h0M459.5 624.7h0M462.0 588.4h0M461.6 568.6h0M461.9 629.7h0M461.9 570.4h0M461.6 543.3h0M461.8 610.4h0M462.0 593.0h0M461.8 581.2h0M461.7 592.7h0M461.7 626.0h0M461.9 593.4h0M461.8 585.7h0M461.7 566.5h0M461.8 592.7h0M461.6 571.8h0M461.5 593.9h0M461.9 591.5h0M461.8 556.6h0M461.7 623.2h0M461.6 612.6h0M461.7 618.8h0M461.7 608.7h0M461.6 610.9h0M461.5 606.9h0M461.9 610.4h0M461.7 615.4h0M461.5 613.0h0M461.7 630.9h0M461.6 587.5h0M461.5 587.3h0M461.8 620.2h0M461.7 619.5h0M461.8 617.4h0M461.6 581.1h0M461.9 593.5h0M461.6 618.2h0M461.5 621.5h0M461.7 608.9h0M461.4 598.6h0M462.0 603.1h0M461.6 613.1h0M461.7 576.9h0M461.7 622.3h0M461.4 620.2h0M461.8 609.1h0M462.0 605.2h0M461.8 615.9h0M461.8 627.4h0M461.9 589.8h0M461.5 626.9h0M461.7 607.9h0M461.6 561.0h0M461.5 614.6h0M461.9 587.2h0M461.5 618.7h0M461.6 618.1h0M461.4 618.6h0M461.9 625.1h0M461.9 621.7h0M461.8 600.5h0M461.8 624.7h0M461.8 612.1h0M461.6 615.7h0M461.5 589.5h0M461.6 577.2h0M461.5 628.1h0M461.4 610.3h0M461.7 628.9h0M461.6 615.7h0M461.7 622.2h0M461.5 618.3h0M461.7 610.9h0M461.5 628.9h0M461.4 617.5h0M461.5 619.8h0M461.8 609.8h0M462.0 565.7h0M461.9 609.5h0M462.0 578.7h0M461.9 620.1h0M461.6 596.7h0M461.9 621.9h0M462.0 572.6h0M461.7 618.7h0M461.9 631.6h0M461.8 591.7h0M461.7 609.6h0M461.8 607.0h0M461.6 575.0h0M461.9 606.2h0M461.7 600.7h0M461.9 590.4h0M461.6 611.3h0M461.9 598.0h0M461.6 626.1h0M461.5 623.6h0M461.6 578.9h0M461.9 585.4h0M461.8 604.7h0M461.7 604.2h0M461.9 580.2h0M461.9 618.9h0M461.5 581.0h0M461.8 633.9h0M462.0 621.0h0M461.9 623.0h0M462.0 643.6h0M461.8 597.7h0M461.8 603.7h0M461.8 592.4h0M461.5 581.0h0M461.6 596.4h0M461.8 617.9h0M461.8 601.5h0M461.5 598.6h0M461.8 573.7h0M461.8 608.9h0M461.9 607.3h0M461.7 622.1h0M461.9 619.1h0M462.0 604.3h0M461.9 573.0h0M461.8 626.1h0M461.8 615.4h0M461.6 583.6h0M461.9 609.2h0M461.6 610.2h0M461.6 609.7h0M461.9 607.2h0M461.8 580.3h0M461.8 590.0h0M463.9 593.1h0M463.9 564.3h0M464.2 558.9h0M463.8 607.3h0M464.0 566.7h0M464.1 633.8h0M464.2 623.4h0M463.9 575.6h0M463.9 587.6h0M464.0 562.8h0M464.3 581.6h0M464.1 600.5h0M463.9 545.8h0M464.4 560.2h0M463.9 600.8h0M463.8 621.1h0M464.4 566.4h0M464.0 585.4h0M463.9 615.4h0M464.2 607.1h0M463.9 573.3h0M464.3 619.6h0M464.3 614.1h0M464.2 618.7h0M464.1 602.2h0M463.9 610.8h0M464.2 577.6h0M463.9 603.8h0M463.9 585.5h0M464.2 619.9h0M464.4 615.6h0M464.2 631.3h0M464.0 601.1h0M464.3 591.5h0M463.9 572.3h0M464.3 610.1h0M464.3 561.1h0M464.3 602.8h0M464.3 610.1h0M463.9 606.7h0M463.9 625.8h0M464.2 625.9h0M464.4 605.8h0M464.2 574.8h0M464.3 627.4h0M464.2 616.1h0M464.1 592.1h0M464.1 616.4h0M464.1 606.9h0M464.3 602.9h0M464.2 577.5h0M464.3 609.2h0M464.1 594.3h0M464.3 626.4h0M464.0 629.1h0M464.0 607.9h0M463.8 608.4h0M464.4 620.5h0M464.3 575.3h0M464.2 626.3h0M464.1 595.6h0M464.4 621.3h0M463.8 607.3h0M464.4 579.8h0M464.2 593.0h0M464.0 625.5h0M464.3 624.4h0M464.4 584.9h0M463.9 611.6h0M463.8 568.0h0M464.4 600.7h0M464.0 606.5h0M464.1 622.8h0M464.0 615.6h0M464.2 627.0h0M463.9 621.4h0M464.2 612.9h0M464.3 579.1h0M463.8 624.2h0M463.9 616.8h0M464.2 604.0h0M464.1 613.4h0M464.3 637.1h0M464.3 610.4h0M464.3 616.0h0M464.4 599.6h0M464.3 620.5h0M464.2 604.7h0M464.4 617.3h0M464.3 611.5h0M464.0 621.3h0M464.3 596.7h0M464.3 621.1h0M463.9 630.3h0M464.3 602.2h0M464.4 580.7h0M463.9 620.7h0M464.0 607.9h0M464.2 592.3h0M464.0 622.8h0M464.1 611.0h0M464.4 588.2h0M464.1 584.0h0M464.2 616.6h0M464.1 626.5h0M464.0 623.2h0M464.2 594.7h0M464.4 612.0h0M464.1 629.2h0M464.0 611.2h0M463.9 597.3h0M464.2 602.3h0M464.3 592.6h0M464.1 605.5h0M463.9 597.5h0M464.3 611.0h0M463.9 620.2h0M464.4 617.7h0M464.2 578.5h0M463.9 617.6h0M464.3 597.7h0M464.0 613.4h0M464.4 611.4h0M464.4 609.9h0M464.3 612.1h0M464.2 610.7h0M463.8 608.6h0M464.4 560.7h0M464.3 591.2h0M464.2 605.6h0M463.9 602.1h0M464.3 596.7h0M464.3 599.3h0M464.0 607.7h0M463.9 613.6h0M464.3 617.5h0M466.7 598.7h0M466.4 622.7h0M466.6 622.2h0M466.5 628.5h0M466.6 606.9h0M466.7 593.5h0M466.6 565.4h0M466.6 594.4h0M466.3 552.6h0M466.8 565.9h0M466.4 620.8h0M466.7 592.0h0M466.2 576.3h0M466.4 630.5h0M466.4 626.9h0M466.5 579.1h0M466.5 626.6h0M466.8 604.1h0M466.7 612.7h0M466.8 621.1h0M466.6 617.1h0M466.6 616.5h0M466.5 625.5h0M466.5 560.2h0M466.4 602.4h0M466.6 608.6h0M466.7 637.4h0M466.6 605.8h0M466.3 574.8h0M466.7 590.0h0M466.3 600.9h0M466.5 602.9h0M466.7 609.8h0M466.4 598.6h0M466.5 622.0h0M466.6 603.0h0M466.5 607.2h0M466.3 621.8h0M466.5 578.8h0M466.6 600.1h0M466.6 616.1h0M466.4 573.1h0M466.7 612.9h0M466.5 619.8h0M466.6 612.4h0M466.4 624.6h0M466.5 604.0h0M466.5 608.9h0M466.6 619.9h0M466.6 619.8h0M466.7 611.3h0M466.8 628.1h0M466.4 615.2h0M466.4 600.0h0M466.8 619.0h0M466.6 617.6h0M466.8 615.0h0M466.8 601.7h0M466.8 622.0h0M466.6 614.2h0M466.7 575.2h0M466.7 606.2h0M466.3 565.9h0M466.5 617.6h0M466.5 599.3h0M466.7 615.5h0M466.4 611.8h0M466.7 626.9h0M466.8 589.1h0M466.5 627.7h0M466.3 619.1h0M466.3 587.3h0M466.5 606.2h0M466.4 581.5h0M466.5 617.0h0M466.3 624.4h0M466.4 598.2h0M466.3 600.4h0M466.8 577.1h0M466.6 613.1h0M466.6 620.7h0M466.4 599.2h0M466.7 604.8h0M466.8 629.4h0M466.5 615.8h0M466.4 607.0h0M466.4 624.6h0M466.6 623.4h0M466.5 611.1h0M466.7 607.2h0M466.3 615.1h0M466.4 604.0h0M466.8 623.0h0M466.3 629.7h0M466.7 568.8h0M466.4 601.6h0M466.2 616.1h0M466.4 612.9h0M466.4 571.2h0M466.4 610.5h0M466.8 635.7h0M466.8 598.5h0M466.2 600.3h0M466.4 618.1h0M466.3 580.2h0M466.4 608.4h0M466.7 617.5h0M466.8 599.2h0M466.8 621.0h0M466.5 612.2h0M466.3 624.4h0M466.5 573.5h0M466.3 626.2h0M466.3 603.2h0M466.4 630.4h0M466.6 619.6h0M466.7 588.9h0M466.5 602.8h0M466.7 602.8h0M466.5 613.7h0M466.4 619.8h0M466.4 612.8h0M466.6 614.7h0M466.4 606.3h0M466.4 592.3h0M466.7 621.5h0M466.8 616.0h0M466.4 622.0h0M466.3 607.0h0M466.7 617.9h0M466.4 645.4h0M466.3 613.0h0M466.3 615.7h0M466.5 586.7h0M466.5 632.4h0M466.5 619.2h0M466.6 613.7h0M466.5 605.4h0M466.7 625.5h0M469.2 564.0h0M468.9 594.7h0M468.7 601.0h0M469.2 554.3h0M468.8 617.1h0M468.8 562.9h0M468.8 581.7h0M468.7 601.8h0M468.8 586.4h0M468.8 573.1h0M468.7 570.4h0M468.7 614.9h0M468.8 620.7h0M468.9 591.1h0M468.9 588.0h0M469.2 556.3h0M469.2 577.7h0M469.0 617.1h0M468.9 616.2h0M468.9 622.4h0M468.9 613.9h0M468.7 614.0h0M468.7 607.3h0M468.8 608.4h0M469.2 620.9h0M468.8 592.1h0M468.8 575.6h0M468.9 624.4h0M469.1 634.9h0M469.2 608.2h0M469.2 607.9h0M469.1 611.4h0M468.7 597.5h0M469.1 610.3h0M469.2 609.0h0M469.2 623.0h0M468.7 602.8h0M468.8 601.5h0M469.2 618.6h0M469.0 629.5h0M468.9 613.3h0M468.9 604.0h0M468.7 626.8h0M468.7 605.6h0M469.2 570.7h0M468.9 612.6h0M468.8 614.1h0M468.9 624.4h0M469.2 598.1h0M468.8 611.5h0M468.7 607.0h0M468.9 608.4h0M468.7 616.7h0M469.1 586.0h0M469.2 583.2h0M469.0 626.2h0M469.0 593.1h0M468.9 604.7h0M468.7 621.1h0M469.2 630.7h0M468.7 599.5h0M468.9 604.6h0M468.8 604.7h0M468.7 612.9h0M468.8 628.9h0M469.1 608.1h0M468.8 599.5h0M469.2 613.6h0M468.9 609.4h0M468.8 581.4h0M469.0 604.4h0M468.8 579.0h0M469.0 584.8h0M468.8 609.2h0M469.0 617.4h0M468.9 630.5h0M468.7 611.3h0M469.2 620.7h0M469.1 605.7h0M468.9 618.9h0M468.8 588.6h0M468.9 612.8h0M469.0 591.2h0M468.7 626.2h0M469.2 615.7h0M469.0 621.8h0M469.2 604.1h0M468.9 611.8h0M468.9 615.4h0M469.2 604.8h0M469.2 603.4h0M469.1 625.3h0M469.1 623.6h0M469.1 606.7h0M469.2 598.0h0M469.1 610.6h0M469.2 624.1h0M468.7 595.7h0M468.9 607.9h0M469.0 612.6h0M469.0 622.7h0M468.9 582.6h0M469.0 620.3h0M469.2 592.4h0M469.2 582.7h0M469.1 610.9h0M468.7 599.6h0M469.0 628.2h0M469.2 575.7h0M468.7 621.0h0M468.7 614.1h0M469.2 576.9h0M468.9 622.0h0M468.9 585.8h0M468.8 597.3h0M468.8 624.6h0M469.0 614.0h0M468.9 621.5h0M469.0 614.0h0M469.1 605.7h0M469.2 620.2h0M469.1 617.3h0M469.1 629.8h0M468.9 636.5h0M468.8 617.3h0M469.0 619.3h0M469.0 580.4h0M469.2 613.6h0M469.0 611.6h0M469.1 619.9h0M469.1 621.8h0M469.1 623.1h0M469.0 610.4h0M469.2 621.4h0M469.1 579.3h0M469.2 615.8h0M468.8 605.8h0M469.1 612.0h0M469.2 601.2h0M471.4 615.5h0M471.3 555.4h0M471.1 590.5h0M471.3 598.0h0M471.4 581.5h0M471.2 596.4h0M471.1 557.0h0M471.1 594.5h0M471.4 601.8h0M471.2 590.1h0M471.4 619.1h0M471.2 630.2h0M471.1 594.4h0M471.1 599.2h0M471.6 612.9h0M471.5 614.4h0M471.2 618.4h0M471.3 612.5h0M471.1 599.1h0M471.4 606.8h0M471.5 605.6h0M471.2 609.1h0M471.3 625.7h0M471.2 594.3h0M471.6 598.1h0M471.6 627.4h0M471.3 617.7h0M471.2 592.7h0M471.5 598.8h0M471.1 629.0h0M471.6 637.7h0M471.6 626.4h0M471.5 629.0h0M471.6 630.2h0M471.5 616.7h0M471.3 601.4h0M471.6 605.8h0M471.3 619.0h0M471.5 604.1h0M471.6 613.9h0M471.4 592.1h0M471.1 608.6h0M471.2 594.9h0M471.3 615.2h0M471.1 585.6h0M471.6 589.6h0M471.5 602.1h0M471.1 631.3h0M471.2 624.0h0M471.4 618.9h0M471.3 625.7h0M471.1 619.2h0M471.1 604.5h0M471.2 613.7h0M471.5 611.5h0M471.3 620.7h0M471.3 593.5h0M471.7 614.6h0M471.6 604.6h0M471.2 624.7h0M471.6 590.0h0M471.1 620.1h0M471.4 609.2h0M471.2 621.9h0M471.5 551.0h0M471.4 623.0h0M471.1 605.2h0M471.6 590.5h0M471.6 614.4h0M471.5 607.0h0M471.4 613.9h0M471.1 622.7h0M471.1 627.6h0M471.2 635.6h0M471.4 619.3h0M471.6 596.8h0M471.3 612.1h0M471.4 589.6h0M471.4 612.3h0M471.3 585.2h0M471.1 617.0h0M471.6 622.1h0M471.3 628.3h0M471.3 624.8h0M471.2 620.0h0M471.4 612.1h0M471.4 619.7h0M471.1 626.4h0M471.5 615.7h0M471.4 633.6h0M471.5 625.8h0M471.6 586.9h0M471.1 568.9h0M471.2 617.5h0M471.5 618.4h0M471.6 618.8h0M471.4 620.9h0M471.5 612.7h0M471.5 609.6h0M471.1 593.0h0M471.4 603.0h0M471.5 606.2h0M471.6 640.3h0M471.5 593.2h0M471.4 586.2h0M471.3 599.3h0M471.3 584.3h0M471.4 613.9h0M471.3 609.3h0M471.3 622.8h0M471.6 602.0h0M471.2 614.4h0M471.1 592.0h0M471.2 581.7h0M471.6 614.7h0M471.6 631.0h0M471.5 615.7h0M471.1 563.4h0M471.6 615.5h0M471.4 578.3h0M471.4 608.8h0M471.1 607.1h0M471.1 623.7h0M471.3 587.8h0M471.5 576.3h0M471.6 606.2h0M471.7 617.8h0M471.3 619.5h0M471.6 610.9h0M471.4 602.6h0M471.2 607.0h0M471.5 580.3h0M471.2 596.2h0M471.1 612.1h0M471.6 573.2h0M471.1 618.2h0M471.5 616.8h0M471.6 615.1h0M471.2 623.9h0M471.3 604.7h0M473.8 618.5h0M473.9 619.9h0M473.7 600.0h0M473.7 612.9h0M473.7 592.2h0M473.6 585.8h0M474.0 577.3h0M473.9 591.4h0M473.7 570.0h0M474.0 574.1h0M473.9 609.3h0M473.5 592.0h0M473.5 616.5h0M474.0 558.5h0M473.8 610.9h0M473.6 613.6h0M473.6 606.0h0M473.9 592.7h0M474.1 619.1h0M473.6 615.0h0M473.8 615.1h0M474.0 613.5h0M473.9 612.3h0M473.8 638.8h0M473.7 615.0h0M474.0 589.7h0M473.9 598.5h0M473.9 621.0h0M473.5 594.0h0M473.8 611.6h0M473.9 611.4h0M474.0 619.2h0M473.9 591.8h0M474.1 632.0h0M473.6 599.2h0M473.5 607.5h0M473.9 596.1h0M473.8 610.4h0M474.0 618.4h0M474.0 622.1h0M474.0 587.7h0M473.6 617.5h0M473.8 591.0h0M473.8 623.0h0M473.5 603.8h0M473.6 606.8h0M474.0 595.6h0M473.7 576.0h0M473.5 626.0h0M473.7 591.0h0M473.5 589.2h0M474.0 613.8h0M473.9 629.8h0M473.8 609.2h0M473.6 605.1h0M474.1 636.5h0M473.9 604.8h0M473.5 629.0h0M474.1 623.6h0M473.7 614.6h0M473.6 610.6h0M473.8 616.5h0M473.8 600.1h0M473.8 599.5h0M473.6 627.7h0M474.0 619.2h0M473.9 629.1h0M473.8 619.2h0M473.5 602.0h0M474.0 629.5h0M473.5 615.4h0M473.9 627.8h0M474.0 619.0h0M474.0 630.9h0M473.5 638.0h0M474.0 597.6h0M474.0 609.6h0M473.6 623.3h0M473.5 613.1h0M473.7 625.5h0M473.7 591.2h0M473.6 632.2h0M474.0 617.9h0M473.8 565.5h0M474.0 600.8h0M473.8 609.6h0M474.0 612.4h0M473.8 569.7h0M474.0 623.0h0M474.0 613.0h0M474.0 616.9h0M473.7 611.5h0M473.7 629.6h0M473.9 613.2h0M473.7 617.7h0M473.6 606.6h0M474.0 615.1h0M473.9 588.5h0M473.6 577.8h0M473.6 632.2h0M474.0 621.0h0M473.9 604.7h0M473.8 614.0h0M474.0 607.2h0M473.7 620.6h0M474.1 624.3h0M473.9 572.4h0M473.9 626.9h0M473.5 617.3h0M473.7 604.0h0M473.7 599.0h0M473.7 601.2h0M473.7 622.1h0M473.7 599.7h0M473.7 610.1h0M473.8 625.7h0M473.9 593.9h0M473.6 636.3h0M473.8 599.6h0M473.6 627.3h0M473.5 616.1h0M473.7 612.0h0M473.7 626.2h0M474.0 591.8h0M474.0 640.8h0M474.0 625.1h0M473.5 612.5h0M473.6 613.0h0M474.1 628.6h0M473.7 587.4h0M473.9 610.3h0M473.9 628.3h0M473.7 617.7h0M473.8 621.1h0M473.5 616.0h0M473.7 617.7h0M473.8 609.2h0M473.9 601.8h0M473.7 615.5h0M476.0 568.1h0M476.2 564.4h0M476.3 608.7h0M476.5 599.3h0M476.5 562.4h0M476.0 604.6h0M476.3 560.1h0M475.9 625.1h0M476.4 579.5h0M476.0 573.7h0M476.2 596.2h0M476.2 590.9h0M476.1 567.3h0M476.4 615.9h0M476.1 615.1h0M476.0 561.5h0M476.3 603.7h0M476.3 602.7h0M476.3 620.5h0M476.3 626.7h0M476.1 607.5h0M476.3 624.2h0M476.3 618.6h0M476.2 579.8h0M476.0 627.0h0M476.0 632.4h0M476.4 638.3h0M476.1 624.0h0M476.3 638.7h0M476.0 599.6h0M476.1 601.5h0M476.3 623.3h0M476.3 624.5h0M476.3 614.2h0M476.2 627.6h0M476.2 611.7h0M476.5 594.2h0M476.1 610.9h0M476.1 619.7h0M475.9 614.0h0M476.0 618.6h0M476.2 611.2h0M476.2 603.5h0M475.9 633.8h0M476.2 617.5h0M476.3 619.4h0M475.9 629.6h0M476.0 628.9h0M476.0 613.4h0M475.9 620.7h0M476.3 631.5h0M476.5 624.9h0M476.1 623.5h0M476.2 615.3h0M476.4 609.6h0M476.3 619.8h0M476.2 611.2h0M476.0 608.6h0M476.0 634.3h0M476.1 600.4h0M476.0 583.5h0M476.0 589.6h0M476.1 591.7h0M476.2 596.0h0M476.3 620.4h0M476.1 617.1h0M476.0 595.3h0M476.0 611.4h0M476.1 601.7h0M476.2 608.4h0M476.0 597.9h0M476.3 618.5h0M475.9 592.8h0M476.2 611.4h0M476.1 572.7h0M476.0 634.7h0M476.1 609.6h0M476.0 604.2h0M476.0 622.6h0M476.5 582.7h0M476.4 585.0h0M476.3 610.3h0M476.0 594.8h0M476.3 604.7h0M476.2 606.1h0M476.2 628.6h0M475.9 572.5h0M475.9 617.2h0M476.3 620.0h0M476.1 607.6h0M476.0 595.0h0M476.0 586.9h0M476.3 641.0h0M476.2 634.3h0M476.4 626.9h0M476.4 626.2h0M476.0 567.8h0M476.3 601.0h0M476.3 593.9h0M475.9 593.2h0M476.2 598.0h0M476.3 601.9h0M476.2 615.6h0M476.3 614.5h0M476.1 607.7h0M476.1 606.0h0M476.1 624.6h0M476.5 620.8h0M476.4 587.2h0M475.9 619.5h0M476.1 602.3h0M476.2 628.6h0M475.9 606.0h0M476.1 621.0h0M476.2 605.4h0M476.1 623.2h0M476.0 610.4h0M476.4 604.4h0M476.4 605.8h0M476.2 643.7h0M476.2 607.1h0M476.4 623.8h0M476.2 592.2h0M476.4 612.7h0M475.9 603.7h0M476.0 591.1h0M476.2 603.0h0M476.0 607.2h0M476.4 607.5h0M476.5 595.5h0M476.4 582.9h0M476.3 633.2h0M476.2 611.0h0M476.3 572.2h0M476.2 614.9h0M478.9 583.8h0M478.6 623.5h0M478.9 610.9h0M478.8 592.1h0M478.8 640.5h0M478.9 599.7h0M478.9 592.3h0M478.4 600.8h0M478.3 565.5h0M478.7 602.0h0M478.7 556.2h0M478.4 587.3h0M478.3 617.1h0M478.4 600.1h0M478.6 609.3h0M478.7 589.6h0M478.8 609.1h0M478.6 589.8h0M478.7 605.5h0M478.8 619.0h0M478.9 593.5h0M478.9 606.3h0M478.8 627.0h0M478.7 610.3h0M478.9 613.7h0M478.5 613.7h0M478.3 592.5h0M478.3 620.9h0M478.6 621.1h0M478.7 598.9h0M478.3 624.9h0M478.7 618.3h0M478.8 610.0h0M478.5 606.4h0M478.4 610.2h0M478.4 606.8h0M478.5 632.2h0M478.4 631.5h0M478.8 615.2h0M478.8 588.1h0M478.5 622.5h0M478.4 589.6h0M478.8 606.3h0M478.6 639.1h0M478.7 606.3h0M478.3 627.3h0M478.9 617.0h0M478.6 626.1h0M478.8 589.8h0M478.8 621.6h0M478.5 615.1h0M478.8 615.2h0M478.6 595.8h0M478.6 592.0h0M478.8 602.9h0M478.9 613.2h0M478.3 621.3h0M478.6 620.7h0M478.7 614.9h0M478.7 607.3h0M478.7 583.6h0M478.4 618.9h0M478.9 607.0h0M478.5 614.7h0M478.6 598.7h0M478.5 611.4h0M478.3 608.4h0M478.6 631.3h0M478.3 614.7h0M478.6 617.8h0M478.7 612.7h0M478.7 604.9h0M478.8 629.9h0M478.8 622.4h0M478.6 608.9h0M478.7 624.5h0M478.7 592.5h0M478.8 607.6h0M478.5 619.1h0M478.5 600.9h0M478.6 602.4h0M478.8 611.3h0M478.7 633.7h0M478.7 604.9h0M478.5 608.3h0M478.3 609.7h0M478.5 618.2h0M478.8 616.3h0M478.4 599.6h0M478.7 641.8h0M478.6 614.3h0M478.8 645.3h0M478.5 604.2h0M478.7 598.1h0M478.7 600.3h0M478.7 615.9h0M478.8 616.5h0M478.8 596.9h0M478.7 603.0h0M478.5 614.5h0M478.8 611.6h0M478.8 623.1h0M478.4 607.0h0M478.6 625.2h0M478.7 599.7h0M478.9 626.7h0M478.6 583.8h0M478.5 623.2h0M478.8 622.3h0M478.5 612.2h0M478.5 615.8h0M478.5 610.4h0M478.6 615.8h0M478.7 634.3h0M478.6 595.8h0M478.9 625.0h0M478.5 606.4h0M478.8 622.6h0M478.4 620.3h0M478.4 604.5h0M478.8 608.4h0M478.4 625.1h0M478.6 631.0h0M478.7 595.3h0M478.4 610.4h0M478.6 618.8h0M478.4 624.6h0M478.4 600.3h0M480.8 607.7h0M481.2 603.9h0M481.3 557.9h0M481.0 580.0h0M480.8 610.2h0M481.1 583.9h0M481.1 629.9h0M481.2 588.3h0M481.0 582.9h0M480.9 594.0h0M481.1 586.2h0M481.1 566.1h0M481.2 587.5h0M480.7 593.4h0M481.3 576.8h0M480.9 561.3h0M480.7 618.8h0M481.0 636.6h0M481.2 611.8h0M481.2 600.8h0M481.0 626.3h0M481.1 596.3h0M480.9 595.3h0M481.0 635.3h0M480.9 629.9h0M480.8 603.5h0M480.9 624.0h0M481.2 594.5h0M481.1 614.3h0M480.7 614.6h0M481.1 611.1h0M481.1 614.0h0M481.0 602.2h0M481.1 606.4h0M481.1 618.9h0M481.2 587.5h0M480.8 630.5h0M481.2 620.6h0M480.8 623.5h0M481.1 622.3h0M480.7 622.6h0M480.9 620.9h0M481.2 635.6h0M480.9 619.7h0M480.9 615.9h0M480.9 612.0h0M480.9 614.1h0M481.0 614.2h0M481.0 598.4h0M480.9 614.7h0M480.8 634.3h0M480.9 604.6h0M481.1 597.8h0M481.1 619.8h0M481.0 607.0h0M481.0 592.3h0M481.1 604.4h0M481.1 621.4h0M481.3 638.9h0M481.1 627.9h0M481.0 634.5h0M480.7 589.0h0M480.9 618.7h0M480.8 572.1h0M480.7 606.1h0M481.2 609.2h0M481.2 625.3h0M480.8 631.3h0M480.7 615.6h0M480.7 610.7h0M481.3 610.1h0M480.8 587.6h0M481.2 617.5h0M481.2 599.8h0M480.9 599.3h0M481.2 597.0h0M480.8 627.3h0M481.2 614.2h0M480.8 603.8h0M480.9 615.3h0M480.7 615.0h0M480.8 641.4h0M481.0 610.2h0M480.8 595.4h0M481.3 603.3h0M481.1 625.4h0M481.0 590.7h0M481.2 615.3h0M480.9 588.8h0M481.0 624.9h0M480.9 614.9h0M481.3 583.0h0M481.1 618.7h0M481.1 616.2h0M481.3 630.1h0M481.2 585.6h0M480.8 617.8h0M481.3 585.0h0M481.0 601.5h0M480.9 612.8h0M481.0 618.0h0M481.3 619.6h0M480.8 588.3h0M480.8 636.2h0M480.9 623.0h0M481.0 579.5h0M480.8 609.7h0M481.0 603.6h0M481.3 624.6h0M481.0 632.4h0M481.1 620.9h0M480.8 610.9h0M481.0 623.2h0M481.0 622.2h0M480.9 633.6h0M480.8 594.4h0M481.3 613.3h0M481.1 586.4h0M481.2 608.6h0M481.2 597.1h0M481.0 634.5h0M481.1 604.8h0M483.2 594.5h0M483.2 584.9h0M483.3 586.0h0M483.5 600.4h0M483.2 586.1h0M483.3 613.5h0M483.2 596.3h0M483.2 590.5h0M483.2 621.0h0M483.5 558.8h0M483.3 580.0h0M483.4 570.4h0M483.2 594.5h0M483.1 575.0h0M483.2 586.5h0M483.2 610.0h0M483.3 626.9h0M483.3 609.2h0M483.2 617.3h0M483.4 592.1h0M483.2 586.1h0M483.4 605.8h0M483.1 630.0h0M483.5 616.5h0M483.5 620.9h0M483.1 597.0h0M483.3 613.2h0M483.6 622.9h0M483.2 620.4h0M483.6 618.2h0M483.3 617.7h0M483.2 589.2h0M483.4 597.2h0M483.2 619.3h0M483.2 610.4h0M483.5 633.7h0M483.2 602.6h0M483.4 594.1h0M483.2 611.0h0M483.1 622.3h0M483.3 612.2h0M483.5 575.6h0M483.5 620.9h0M483.4 605.1h0M483.5 623.5h0M483.1 645.0h0M483.2 613.1h0M483.6 608.5h0M483.4 594.7h0M483.6 592.8h0M483.2 628.8h0M483.3 611.4h0M483.6 613.4h0M483.4 638.3h0M483.7 635.1h0M483.5 614.9h0M483.6 607.2h0M483.5 606.6h0M483.3 625.8h0M483.6 585.3h0M483.4 611.1h0M483.2 620.0h0M483.5 583.1h0M483.5 623.3h0M483.3 577.6h0M483.7 611.4h0M483.4 614.6h0M483.1 598.2h0M483.2 628.0h0M483.6 619.4h0M483.3 616.3h0M483.5 603.3h0M483.2 619.3h0M483.1 568.2h0M483.5 601.3h0M483.3 609.8h0M483.2 618.2h0M483.7 600.7h0M483.6 602.6h0M483.3 629.4h0M483.5 619.4h0M483.2 628.9h0M483.3 637.8h0M483.3 610.5h0M483.5 613.1h0M483.3 576.5h0M483.3 593.2h0M483.5 592.6h0M483.4 600.9h0M483.4 617.5h0M483.5 582.4h0M483.2 601.4h0M483.1 629.8h0M483.2 608.2h0M483.7 620.4h0M483.6 626.3h0M483.5 623.5h0M483.6 625.9h0M483.7 616.7h0M483.2 588.8h0M483.3 574.5h0M483.7 615.6h0M483.6 623.9h0M483.2 612.8h0M483.4 628.4h0M483.1 615.8h0M483.3 619.4h0M483.4 602.1h0M483.4 591.3h0M483.5 604.5h0M483.2 621.6h0M483.1 622.5h0M483.2 622.7h0M485.7 592.2h0M485.7 628.0h0M486.0 622.7h0M486.1 583.0h0M485.8 605.2h0M486.0 580.0h0M485.9 577.4h0M486.0 590.7h0M485.8 578.2h0M485.6 563.6h0M486.0 579.6h0M485.6 596.6h0M486.0 571.5h0M485.9 616.6h0M485.5 574.8h0M485.7 621.7h0M485.7 608.4h0M485.8 616.6h0M486.1 619.1h0M486.1 599.1h0M485.9 613.1h0M485.7 600.1h0M486.1 645.4h0M485.9 633.4h0M486.1 633.7h0M485.6 598.7h0M485.5 602.7h0M486.1 624.4h0M486.0 621.0h0M485.9 612.2h0M485.8 631.3h0M485.7 612.7h0M485.8 615.0h0M485.6 621.0h0M485.8 628.6h0M486.0 621.8h0M485.7 609.5h0M485.6 625.6h0M485.9 629.2h0M485.8 597.8h0M485.6 607.5h0M485.7 616.2h0M485.7 606.5h0M486.1 620.1h0M485.6 636.5h0M485.7 597.3h0M485.6 590.1h0M486.1 631.1h0M485.9 616.8h0M485.6 601.9h0M486.0 620.3h0M485.6 578.3h0M485.7 617.0h0M485.9 632.5h0M485.7 580.9h0M485.6 597.0h0M485.8 593.5h0M485.6 626.3h0M486.0 613.1h0M485.6 619.5h0M485.8 593.1h0M485.9 598.4h0M486.1 619.3h0M485.5 627.1h0M485.6 616.4h0M485.7 632.4h0M486.0 625.7h0M485.9 590.6h0M486.0 614.2h0M485.7 602.6h0M485.7 619.5h0M486.0 604.6h0M485.7 590.1h0M485.8 619.4h0M486.0 591.6h0M486.0 631.5h0M485.8 627.8h0M486.0 624.9h0M485.7 596.5h0M486.1 621.1h0M485.6 595.0h0M486.1 622.4h0M486.0 628.0h0M485.6 625.5h0M486.0 629.8h0M485.6 611.2h0M485.8 625.0h0M486.0 623.3h0M485.9 569.0h0M486.0 557.2h0M485.9 630.4h0M485.7 608.9h0M485.9 622.1h0M485.8 634.7h0M485.7 614.4h0M485.7 584.7h0M485.8 613.2h0M485.6 598.6h0M485.6 612.3h0M485.7 620.3h0M485.7 597.6h0M485.9 628.1h0M488.3 585.9h0M488.5 605.5h0M488.2 600.9h0M488.2 553.0h0M488.3 558.3h0M488.2 631.4h0M488.5 614.5h0M488.5 609.6h0M488.2 580.9h0M488.1 557.2h0M488.2 584.0h0M488.3 595.0h0M488.2 577.6h0M488.0 580.2h0M488.2 628.9h0M488.1 616.3h0M488.4 620.9h0M488.0 591.4h0M488.2 617.7h0M488.5 588.9h0M488.1 628.3h0M488.3 643.9h0M488.2 605.4h0M488.0 607.5h0M487.9 603.3h0M488.4 630.8h0M488.0 633.5h0M488.5 613.9h0M488.0 633.1h0M488.2 576.8h0M488.0 594.0h0M488.4 631.6h0M488.5 618.9h0M488.3 617.3h0M488.1 634.9h0M488.4 610.1h0M488.5 603.4h0M488.0 616.6h0M488.4 613.8h0M488.4 619.9h0M488.1 629.7h0M488.4 640.8h0M488.2 579.0h0M488.5 620.0h0M488.0 621.0h0M488.2 635.2h0M488.5 634.7h0M488.2 632.9h0M488.2 616.4h0M488.1 628.4h0M488.4 634.9h0M488.5 623.0h0M488.3 642.6h0M488.3 584.4h0M488.0 637.2h0M488.4 608.4h0M488.4 620.1h0M488.0 623.1h0M488.5 639.3h0M488.0 612.0h0M488.3 612.9h0M488.5 594.9h0M488.2 632.8h0M488.3 614.7h0M488.3 607.6h0M488.4 597.2h0M488.1 617.7h0M488.0 618.6h0M488.0 624.8h0M488.0 616.1h0M488.1 613.7h0M488.2 628.1h0M488.3 618.0h0M488.1 625.8h0M488.4 630.1h0M488.0 613.9h0M488.4 591.0h0M488.3 641.5h0M488.3 626.6h0M488.5 631.2h0M488.5 621.8h0M488.5 626.2h0M488.3 570.7h0M488.5 592.8h0M488.2 612.7h0M488.2 614.2h0M488.0 598.5h0M488.4 579.4h0M488.4 624.9h0M488.4 618.7h0M488.2 618.2h0M488.2 629.0h0M488.5 598.1h0M490.9 612.5h0M490.6 581.0h0M490.5 590.3h0M490.6 588.6h0M490.6 565.4h0M490.7 578.9h0M490.6 552.3h0M490.7 607.2h0M490.9 558.7h0M490.6 584.9h0M490.5 627.9h0M490.9 565.1h0M490.4 557.2h0M490.4 611.7h0M490.7 588.4h0M490.8 637.5h0M490.5 645.5h0M490.6 609.3h0M490.4 624.9h0M490.8 615.8h0M490.6 609.1h0M490.8 569.2h0M490.7 613.7h0M490.8 621.8h0M490.4 604.5h0M490.4 621.1h0M490.9 612.1h0M490.8 645.3h0M490.7 625.7h0M490.4 594.8h0M490.5 599.2h0M490.7 631.9h0M490.4 602.0h0M490.7 628.1h0M490.7 609.8h0M490.6 629.1h0M490.5 579.2h0M490.8 613.8h0M490.8 615.8h0M490.3 596.9h0M490.5 581.0h0M490.5 585.4h0M490.5 582.5h0M490.4 599.4h0M490.4 616.2h0M490.5 620.2h0M490.8 643.7h0M490.8 608.4h0M490.6 621.2h0M490.8 631.6h0M490.8 584.8h0M490.5 599.5h0M490.6 604.9h0M490.9 616.7h0M490.8 612.6h0M490.7 616.1h0M490.6 632.3h0M490.8 610.6h0M490.5 622.7h0M490.6 597.1h0M490.4 590.7h0M490.4 612.5h0M490.6 634.1h0M490.7 581.3h0M490.5 619.0h0M490.9 613.9h0M490.8 601.9h0M490.6 589.9h0M490.8 631.7h0M490.9 617.0h0M490.9 622.0h0M490.9 607.0h0M490.7 598.1h0M490.9 622.7h0M490.9 622.7h0M490.4 618.3h0M490.9 590.3h0M490.8 622.5h0M490.8 627.4h0M490.4 622.5h0M490.7 589.9h0M492.8 620.6h0M493.2 541.5h0M493.2 543.6h0M492.9 587.2h0M493.1 601.3h0M493.2 570.6h0M492.8 561.4h0M493.3 620.1h0M493.1 600.3h0M493.3 597.5h0M493.2 576.6h0M493.3 574.4h0M492.9 589.5h0M493.0 635.8h0M493.1 611.4h0M492.8 636.2h0M492.9 622.7h0M492.8 618.2h0M493.3 630.3h0M493.1 621.9h0M493.0 631.4h0M493.2 625.3h0M493.1 635.6h0M493.2 596.5h0M492.9 619.8h0M493.1 613.6h0M493.3 616.8h0M493.1 635.5h0M493.2 599.3h0M493.0 631.4h0M492.9 603.4h0M492.8 640.0h0M493.2 639.3h0M493.2 645.1h0M492.9 603.3h0M493.3 619.2h0M493.2 616.2h0M493.3 618.2h0M493.2 622.7h0M492.8 622.6h0M493.3 635.7h0M492.8 612.6h0M493.3 597.8h0M492.9 606.2h0M493.1 631.7h0M492.8 623.8h0M492.9 625.5h0M492.9 617.7h0M492.9 637.7h0M492.9 615.6h0M493.0 621.3h0M493.3 643.4h0M493.1 621.8h0M492.8 585.1h0M492.8 589.2h0M493.3 611.2h0M493.3 591.3h0M493.0 625.1h0M492.8 622.2h0M492.8 621.6h0M493.3 594.0h0M493.1 625.4h0M492.8 578.3h0M493.1 594.5h0M492.9 609.6h0M492.8 628.0h0M493.3 587.1h0M492.9 624.0h0M492.9 602.3h0M493.0 617.5h0M493.2 632.2h0M492.8 599.0h0M493.3 617.6h0M495.8 599.8h0M495.6 581.1h0M495.6 588.2h0M495.5 614.6h0M495.2 604.1h0M495.6 591.0h0M495.6 568.8h0M495.6 588.4h0M495.5 563.3h0M495.7 559.6h0M495.7 618.1h0M495.2 577.0h0M495.6 606.7h0M495.5 623.4h0M495.4 636.9h0M495.7 624.6h0M495.7 615.3h0M495.7 587.8h0M495.5 616.3h0M495.4 625.4h0M495.4 621.5h0M495.4 625.0h0M495.3 632.7h0M495.6 620.6h0M495.6 607.2h0M495.4 612.4h0M495.5 616.1h0M495.3 597.4h0M495.4 644.6h0M495.3 591.6h0M495.3 610.6h0M495.3 612.4h0M495.5 635.7h0M495.4 623.4h0M495.3 626.2h0M495.7 621.8h0M495.2 627.1h0M495.3 637.0h0M495.4 616.7h0M495.2 609.1h0M495.6 595.0h0M495.3 627.2h0M495.7 582.3h0M495.5 591.4h0M495.6 625.6h0M495.4 591.3h0M495.6 596.9h0M495.4 624.7h0M495.6 632.9h0M495.5 610.7h0M495.4 600.3h0M495.7 618.1h0M495.4 604.2h0M495.5 625.5h0M495.6 631.2h0M495.3 597.4h0M495.3 602.5h0M495.6 608.5h0M495.3 600.1h0M495.2 587.9h0M495.3 606.9h0M495.2 616.2h0M495.5 612.8h0M495.7 592.7h0M498.2 614.9h0M498.1 605.9h0M497.6 550.3h0M497.7 572.6h0M497.7 631.9h0M498.1 591.4h0M497.7 615.6h0M497.8 586.7h0M497.9 611.6h0M498.0 594.5h0M498.1 602.0h0M498.1 561.4h0M497.8 569.3h0M497.7 611.5h0M497.9 631.4h0M498.1 645.6h0M497.9 615.4h0M497.6 622.8h0M497.9 605.3h0M498.1 630.1h0M498.1 621.0h0M497.9 590.6h0M497.8 596.5h0M498.1 602.4h0M497.9 630.4h0M498.0 614.3h0M497.8 616.5h0M497.9 617.3h0M498.1 629.8h0M497.8 634.5h0M498.1 614.4h0M497.8 579.1h0M498.0 592.4h0M497.8 623.0h0M497.9 621.1h0M497.6 628.9h0M497.9 616.1h0M498.1 622.0h0M497.8 605.3h0M498.1 644.7h0M497.9 602.9h0M497.9 596.7h0M498.1 603.8h0M497.9 624.3h0M498.1 633.0h0M498.1 623.5h0M497.8 644.6h0M497.6 595.0h0M498.0 639.3h0M498.0 574.8h0M497.7 616.5h0M497.9 626.4h0M497.8 597.9h0M498.1 587.4h0M497.9 634.1h0M500.1 620.2h0M500.4 612.6h0M500.0 617.9h0M500.1 600.7h0M500.5 558.3h0M500.2 623.3h0M500.1 601.0h0M500.1 572.3h0M500.5 573.7h0M500.5 600.4h0M500.0 622.5h0M500.3 559.3h0M500.5 600.0h0M500.1 619.5h0M500.4 638.9h0M500.5 638.6h0M500.3 607.1h0M500.3 622.7h0M500.3 633.7h0M500.1 599.8h0M500.5 613.8h0M500.2 592.9h0M500.4 606.0h0M500.5 602.0h0M500.1 583.0h0M500.4 599.6h0M500.5 623.1h0M500.1 626.2h0M500.2 601.6h0M500.3 616.4h0M500.1 622.5h0M500.6 628.6h0M500.4 645.0h0M500.1 614.1h0M500.2 606.2h0M500.4 622.0h0M500.4 636.1h0M500.3 617.5h0M500.4 627.6h0M500.5 625.6h0M500.5 631.8h0M500.4 603.4h0M500.4 592.3h0M500.5 625.2h0M500.5 623.8h0M500.1 613.6h0M500.1 599.4h0M502.5 588.7h0M502.5 590.1h0M502.7 596.8h0M503.0 606.9h0M502.5 561.1h0M502.7 622.9h0M502.8 587.1h0M502.7 619.8h0M502.8 634.9h0M502.7 614.2h0M502.9 631.8h0M502.7 621.5h0M502.7 619.0h0M502.6 635.4h0M502.5 630.2h0M502.7 621.0h0M502.9 628.5h0M502.4 633.3h0M502.8 629.5h0M502.8 631.1h0M502.9 603.8h0M503.0 619.8h0M502.7 606.0h0M502.6 595.1h0M502.7 619.1h0M502.4 609.0h0M502.6 619.7h0M502.9 624.3h0M502.5 639.1h0M502.7 588.9h0M502.5 620.0h0M502.8 601.8h0M502.8 615.9h0M503.0 629.4h0M505.1 610.2h0M505.4 585.0h0M504.9 587.5h0M505.2 590.0h0M504.8 558.5h0M505.3 631.9h0M505.0 621.1h0M504.8 627.8h0M505.4 613.8h0M505.1 634.6h0M505.3 634.2h0M504.8 639.6h0M505.4 607.9h0M505.0 611.6h0M505.2 605.0h0M505.2 624.9h0M505.2 600.1h0M505.3 638.6h0M504.9 635.4h0M505.1 611.9h0M505.4 627.9h0M504.8 602.7h0M505.2 615.2h0M505.3 624.2h0M505.3 587.2h0M505.3 631.9h0M505.2 605.3h0M505.0 633.2h0M505.1 619.3h0M507.7 581.5h0M507.3 612.6h0M507.5 580.7h0M507.5 636.1h0M507.7 583.5h0M507.3 614.6h0M507.7 628.4h0M507.7 632.0h0M507.2 615.4h0M507.8 633.5h0M507.7 621.8h0M507.6 619.6h0M507.6 633.9h0M507.3 622.9h0M507.3 597.9h0M507.5 617.8h0M507.2 629.2h0M507.8 625.7h0M507.5 617.9h0M507.5 629.0h0M507.5 588.2h0M507.7 639.3h0M509.8 553.0h0M509.7 609.1h0M509.9 612.0h0M510.1 588.4h0M509.7 630.9h0M510.0 586.9h0M510.0 620.5h0M509.6 641.2h0M510.1 600.9h0M509.8 593.7h0M510.1 623.5h0M510.0 627.6h0M510.0 639.7h0M510.2 622.2h0M509.9 596.7h0M510.1 626.1h0M509.9 605.7h0M509.9 625.4h0M512.2 599.2h0M512.1 590.1h0M512.6 559.9h0M512.4 626.9h0M512.1 626.1h0M512.6 624.4h0M512.4 628.6h0M512.4 619.2h0M512.5 610.4h0M512.6 592.9h0M512.4 624.5h0M512.2 633.0h0M512.2 600.0h0M512.1 637.6h0M514.6 572.7h0M515.0 587.9h0M514.9 581.3h0M514.8 559.0h0M514.7 605.7h0M514.7 641.7h0M514.8 619.1h0M514.6 596.2h0M515.0 621.9h0M514.6 611.8h0M514.4 600.9h0M517.0 607.2h0M517.4 564.9h0M517.4 626.3h0M517.4 581.0h0M517.1 593.1h0M517.4 629.2h0M517.3 604.7h0M517.0 628.2h0M519.5 598.2h0M519.5 577.5h0M519.8 616.1h0M519.4 636.1h0M519.7 622.4h0M522.2 592.3h0M521.7 549.3h0M522.0 638.3h0M521.7 607.8h0M521.9 632.8h0M432.8 534.8h0M350.9 533.9h0M420.8 530.3h0M343.6 531.8h0" stroke="#F9A41B" stroke-width="2.2" stroke-linecap="round" fill="none"/>
<path d="M333.8,579.4 L338.8,579.6 L343.8,579.9 L348.7,580.1 L353.7,580.2 L358.7,580.3 L363.7,580.7 L368.7,581.0 L373.6,581.4 L378.6,581.7 L383.6,582.1 L388.6,582.9 L393.6,583.9 L398.5,584.9 L403.5,585.9 L408.5,587.4 L413.5,589.1 L418.5,590.8 L423.4,592.5 L428.4,594.7 L433.4,597.2 L438.4,599.7 L443.4,601.6 L448.3,602.7 L453.3,603.8 L458.3,604.6 L463.3,605.3 L468.3,606.1 L473.2,607.3 L478.2,608.5 L483.2,609.8 L488.2,611.1 L493.2,612.2 L498.1,613.2 L503.1,614.2 L508.1,615.1 L513.1,616.0 L518.1,616.9 L523.0,617.7 L528.0,618.6 L533.0,619.5 L533.0,628.5 L528.0,626.8 L523.0,625.1 L518.1,623.4 L513.1,621.8 L508.1,620.1 L503.1,618.3 L498.1,616.5 L493.2,614.7 L488.2,613.1 L483.2,611.8 L478.2,610.5 L473.2,609.3 L468.3,608.1 L463.3,607.3 L458.3,606.6 L453.3,605.8 L448.3,604.7 L443.4,603.6 L438.4,601.7 L433.4,599.2 L428.4,596.7 L423.4,594.5 L418.5,592.8 L413.5,591.1 L408.5,589.4 L403.5,587.9 L398.5,586.9 L393.6,585.9 L388.6,584.9 L383.6,584.1 L378.6,583.7 L373.6,583.4 L368.7,583.0 L363.7,582.7 L358.7,582.3 L353.7,582.2 L348.7,582.3 L343.8,582.5 L338.8,582.8 L333.8,583.0Z" fill="#c4c4c4" fill-opacity="0.75"/>
<path d="M333.8,581.2 C337.7,581.2 348.5,580.9 357.0,581.2 C365.5,581.5 377.0,582.2 385.0,583.2 C393.0,584.2 398.3,585.4 405.0,587.2 C411.7,589.0 419.0,591.5 425.0,594.0 C431.0,596.5 436.3,600.2 441.0,602.0 C445.7,603.8 448.3,603.9 453.0,604.8 C457.7,605.7 463.7,606.1 469.0,607.2 C474.3,608.3 479.0,609.6 485.0,611.2 C491.0,612.8 497.0,614.7 505.0,616.8 C513.0,618.9 528.3,622.8 533.0,624.0" fill="none" stroke="#3A5BBE" stroke-width="2.6"/>
<rect x="461.5" y="505.5" width="1.8" height="1.8" fill="#F9A41B"/>
</svg></body></html>
